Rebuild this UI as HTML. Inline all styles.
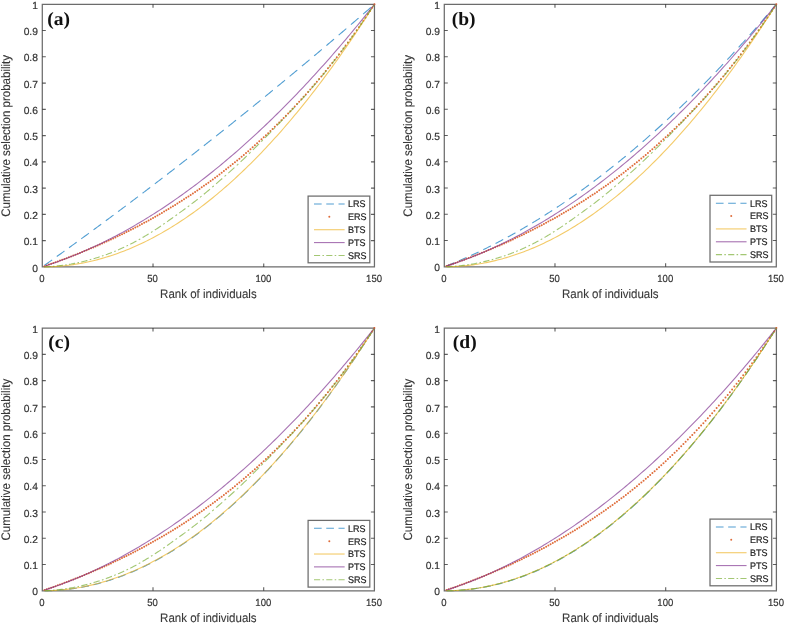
<!DOCTYPE html>
<html lang="en"><head><meta charset="utf-8"><title>Cumulative selection probability</title>
<style>html,body{margin:0;padding:0;background:#fff}svg{display:block}text{font-family:"Liberation Sans",Arial,Helvetica,sans-serif;fill:#333333;stroke:#333333;stroke-width:0.2px;text-rendering:geometricPrecision}.tk{font-size:10.25px}.lb{font-size:12.4px;fill:#383838;stroke:#383838;stroke-width:0.1px}.lg{font-size:9.55px;fill:#1c1c1c;stroke:#1c1c1c}.pn{font-family:"Liberation Serif","Times New Roman",serif;font-weight:bold;font-size:18.8px;fill:#111;stroke:none}.ax{stroke:#262626;stroke-width:1.25;fill:none;stroke-opacity:0.68}.ln{fill:none;stroke-width:1.1;stroke-opacity:0.68;stroke-linecap:butt;stroke-linejoin:round}.dt{fill:none;stroke-linecap:round;stroke-opacity:0.85}</style></head><body>
<svg width="785" height="623" viewBox="0 0 785 623">
<rect width="785" height="623" fill="#fff"/>
<g>
<path class="ax" d="M42.3 4.3H374.45V266.9H42.3Z"/>
<path class="ax" style="stroke-opacity:0.74;stroke-width:1.1" d="M42.3 240.64h3.5M374.45 240.64h-3.5M42.3 214.38h3.5M374.45 214.38h-3.5M42.3 188.12h3.5M374.45 188.12h-3.5M42.3 161.86h3.5M374.45 161.86h-3.5M42.3 135.6h3.5M374.45 135.6h-3.5M42.3 109.34h3.5M374.45 109.34h-3.5M42.3 83.08h3.5M374.45 83.08h-3.5M42.3 56.82h3.5M374.45 56.82h-3.5M42.3 30.56h3.5M374.45 30.56h-3.5M153.02 266.9v-3.5M153.02 4.3v3.5M263.73 266.9v-3.5M263.73 4.3v3.5"/>
<path class="ln" stroke="#0072BD" d="M44.51 265.32 L45.62 264.54 L46.73 263.75 L47.84 262.96 L48.94 262.17 L50.05 261.37 L51.16 260.58 L52.17 259.86M56.77 256.56 L57.8 255.82 L58.91 255.03 L60.01 254.23 L61.12 253.43 L62.23 252.64 L63.34 251.84 L64.43 251.05M69.03 247.73 L69.98 247.04 L71.09 246.23 L72.19 245.43 L73.3 244.63 L74.41 243.82 L75.51 243.02 L76.62 242.21 L76.69 242.17M81.28 238.82 L82.16 238.18 L83.27 237.37 L84.37 236.56 L85.48 235.75 L86.59 234.94 L87.69 234.13 L88.8 233.32 L88.94 233.22M93.54 229.84 L94.61 229.05 L95.72 228.23 L96.83 227.42 L97.94 226.6 L99.04 225.78 L100.15 224.97 L101.2 224.19M105.79 220.79 L106.79 220.05 L107.9 219.23 L109.01 218.4 L110.11 217.58 L111.22 216.76 L112.33 215.93 L113.44 215.11 L113.45 215.09M118.05 211.67 L118.97 210.98 L120.08 210.15 L121.19 209.32 L122.29 208.49 L123.4 207.66 L124.51 206.83 L125.61 206 L125.71 205.93M130.31 202.47 L131.15 201.83 L132.26 201 L133.36 200.16 L134.47 199.33 L135.58 198.49 L136.69 197.66 L137.79 196.82 L137.97 196.69M142.56 193.2 L143.61 192.41 L144.71 191.57 L145.82 190.73 L146.93 189.89 L148.03 189.04 L149.14 188.2 L150.22 187.37M154.82 183.86 L155.78 183.12 L156.89 182.28 L158 181.43 L159.11 180.58 L160.21 179.73 L161.32 178.88 L162.43 178.03 L162.48 177.99M167.07 174.45 L167.96 173.77 L169.07 172.91 L170.18 172.06 L171.28 171.2 L172.39 170.35 L173.5 169.49 L174.61 168.63 L174.73 168.53M179.33 164.97 L180.42 164.12 L181.53 163.26 L182.63 162.4 L183.74 161.54 L184.85 160.68 L185.95 159.81 L186.99 159.01M191.59 155.41 L192.6 154.62 L193.71 153.76 L194.81 152.89 L195.92 152.02 L197.03 151.15 L198.13 150.28 L199.24 149.41 L199.25 149.41M203.84 145.79 L204.78 145.05 L205.88 144.18 L206.99 143.3 L208.1 142.43 L209.21 141.55 L210.31 140.68 L211.42 139.8 L211.5 139.73M216.1 136.09 L216.96 135.41 L218.06 134.53 L219.17 133.65 L220.28 132.77 L221.38 131.88 L222.49 131 L223.6 130.12 L223.76 129.99M228.35 126.32 L229.41 125.47 L230.52 124.58 L231.63 123.7 L232.73 122.81 L233.84 121.92 L234.95 121.03 L236.01 120.17M240.61 116.47 L241.59 115.68 L242.7 114.79 L243.8 113.9 L244.91 113 L246.02 112.11 L247.13 111.21 L248.23 110.32 L248.27 110.29M252.87 106.56 L253.77 105.83 L254.88 104.93 L255.98 104.03 L257.09 103.13 L258.2 102.22 L259.3 101.32 L260.41 100.42 L260.53 100.33M265.12 96.57 L266.22 95.67 L267.33 94.76 L268.44 93.86 L269.55 92.95 L270.65 92.04 L271.76 91.13 L272.78 90.29M277.38 86.51 L278.4 85.67 L279.51 84.76 L280.62 83.84 L281.72 82.93 L282.83 82.01 L283.94 81.1 L285.04 80.19M289.63 76.38 L290.58 75.6 L291.69 74.68 L292.8 73.76 L293.9 72.84 L295.01 71.92 L296.12 70.99 L297.23 70.07 L297.29 70.01M301.89 66.18 L302.76 65.45 L303.87 64.53 L304.98 63.6 L306.08 62.67 L307.19 61.75 L308.3 60.82 L309.4 59.89 L309.55 59.77M314.15 55.9 L315.22 55 L316.32 54.07 L317.43 53.14 L318.54 52.21 L319.65 51.27 L320.75 50.34 L321.81 49.45M326.4 45.56 L327.4 44.72 L328.5 43.78 L329.61 42.84 L330.72 41.9 L331.82 40.96 L332.93 40.02 L334.04 39.07 L334.06 39.05M338.66 35.14 L339.57 34.36 L340.68 33.41 L341.79 32.47 L342.9 31.52 L344 30.57 L345.11 29.63 L346.22 28.68 L346.32 28.59M350.91 24.65 L351.75 23.93 L352.86 22.98 L353.97 22.02 L355.07 21.07 L356.18 20.12 L357.29 19.16 L358.4 18.21 L358.57 18.05M363.17 14.08 L364.21 13.19 L365.32 12.23 L366.42 11.27 L367.53 10.31 L368.64 9.35 L369.74 8.39 L370.83 7.45"/>
<path class="dt" stroke="#D95319" stroke-width="2" d="M44.51 266.14h0M46.73 265.38h0M48.94 264.6h0M51.16 263.82h0M53.37 263.03h0M55.59 262.24h0M57.8 261.43h0M60.01 260.62h0M62.23 259.8h0M64.44 258.97h0M66.66 258.13h0M68.87 257.28h0M71.09 256.43h0M73.3 255.57h0M75.51 254.69h0M77.73 253.81h0M79.94 252.92h0M82.16 252.03h0M84.37 251.12h0M86.59 250.2h0M88.8 249.28h0M91.02 248.34h0M93.23 247.4h0M95.44 246.44h0M97.66 245.48h0M99.87 244.5h0M102.09 243.52h0M104.3 242.53h0M106.52 241.53h0M108.73 240.51h0M110.94 239.49h0M113.16 238.46h0M115.37 237.41h0M117.59 236.36h0M119.8 235.29h0M122.02 234.22h0M124.23 233.13h0M126.44 232.03h0M128.66 230.92h0M130.87 229.81h0M133.09 228.67h0M135.3 227.53h0M137.52 226.38h0M139.73 225.21h0M141.94 224.04h0M144.16 222.85h0M146.37 221.65h0M148.59 220.43h0M150.8 219.21h0M153.02 217.97h0M155.23 216.72h0M157.45 215.46h0M159.66 214.18h0M161.87 212.9h0M164.09 211.6h0M166.3 210.28h0M168.52 208.95h0M170.73 207.61h0M172.95 206.26h0M175.16 204.89h0M177.37 203.51h0M179.59 202.12h0M181.8 200.71h0M184.02 199.28h0M186.23 197.85h0M188.45 196.4h0M190.66 194.93h0M192.87 193.45h0M195.09 191.95h0M197.3 190.44h0M199.52 188.91h0M201.73 187.37h0M203.95 185.81h0M206.16 184.24h0M208.38 182.65h0M210.59 181.05h0M212.8 179.43h0M215.02 177.79h0M217.23 176.14h0M219.45 174.47h0M221.66 172.78h0M223.88 171.07h0M226.09 169.35h0M228.3 167.62h0M230.52 165.86h0M232.73 164.09h0M234.95 162.29h0M237.16 160.49h0M239.38 158.66h0M241.59 156.81h0M243.8 154.95h0M246.02 153.06h0M248.23 151.16h0M250.45 149.24h0M252.66 147.3h0M254.88 145.34h0M257.09 143.36h0M259.3 141.36h0M261.52 139.34h0M263.73 137.3h0M265.95 135.24h0M268.16 133.16h0M270.38 131.06h0M272.59 128.93h0M274.8 126.79h0M277.02 124.62h0M279.23 122.44h0M281.45 120.23h0M283.66 117.99h0M285.88 115.74h0M288.09 113.46h0M290.31 111.16h0M292.52 108.84h0M294.73 106.49h0M296.95 104.12h0M299.16 101.73h0M301.38 99.31h0M303.59 96.87h0M305.81 94.4h0M308.02 91.91h0M310.23 89.39h0M312.45 86.85h0M314.66 84.28h0M316.88 81.69h0M319.09 79.07h0M321.31 76.42h0M323.52 73.75h0M325.73 71.05h0M327.95 68.33h0M330.16 65.57h0M332.38 62.79h0M334.59 59.98h0M336.81 57.14h0M339.02 54.28h0M341.24 51.38h0M343.45 48.46h0M345.66 45.51h0M347.88 42.52h0M350.09 39.51h0M352.31 36.47h0M354.52 33.39h0M356.74 30.29h0M358.95 27.15h0M361.16 23.98h0M363.38 20.79h0M365.59 17.55h0M367.81 14.29h0M370.02 10.99h0M372.24 7.66h0M374.45 4.3h0"/>
<polyline class="ln" stroke="#EDB120" points="44.51,266.89 46.73,266.85 48.94,266.79 51.16,266.71 53.37,266.61 55.59,266.48 57.8,266.33 60.01,266.15 62.23,265.95 64.44,265.73 66.66,265.49 68.87,265.22 71.09,264.93 73.3,264.61 75.51,264.27 77.73,263.91 79.94,263.53 82.16,263.12 84.37,262.69 86.59,262.23 88.8,261.75 91.02,261.25 93.23,260.73 95.44,260.18 97.66,259.61 99.87,259.01 102.09,258.39 104.3,257.75 106.52,257.08 108.73,256.4 110.94,255.68 113.16,254.95 115.37,254.19 117.59,253.41 119.8,252.6 122.02,251.77 124.23,250.92 126.44,250.05 128.66,249.15 130.87,248.23 133.09,247.28 135.3,246.31 137.52,245.32 139.73,244.3 141.94,243.27 144.16,242.2 146.37,241.12 148.59,240.01 150.8,238.88 153.02,237.72 155.23,236.54 157.45,235.34 159.66,234.12 161.87,232.87 164.09,231.59 166.3,230.3 168.52,228.98 170.73,227.64 172.95,226.27 175.16,224.88 177.37,223.47 179.59,222.04 181.8,220.58 184.02,219.1 186.23,217.59 188.45,216.06 190.66,214.51 192.87,212.93 195.09,211.33 197.3,209.71 199.52,208.07 201.73,206.4 203.95,204.7 206.16,202.99 208.38,201.25 210.59,199.49 212.8,197.7 215.02,195.89 217.23,194.06 219.45,192.2 221.66,190.33 223.88,188.42 226.09,186.5 228.3,184.55 230.52,182.58 232.73,180.58 234.95,178.56 237.16,176.52 239.38,174.45 241.59,172.36 243.8,170.25 246.02,168.12 248.23,165.96 250.45,163.77 252.66,161.57 254.88,159.34 257.09,157.09 259.3,154.81 261.52,152.51 263.73,150.19 265.95,147.84 268.16,145.47 270.38,143.08 272.59,140.67 274.8,138.23 277.02,135.76 279.23,133.28 281.45,130.77 283.66,128.24 285.88,125.68 288.09,123.1 290.31,120.5 292.52,117.87 294.73,115.22 296.95,112.55 299.16,109.85 301.38,107.13 303.59,104.39 305.81,101.63 308.02,98.84 310.23,96.02 312.45,93.19 314.66,90.33 316.88,87.44 319.09,84.54 321.31,81.61 323.52,78.66 325.73,75.68 327.95,72.68 330.16,69.66 332.38,66.61 334.59,63.54 336.81,60.45 339.02,57.33 341.24,54.19 343.45,51.03 345.66,47.84 347.88,44.64 350.09,41.4 352.31,38.15 354.52,34.87 356.74,31.56 358.95,28.24 361.16,24.89 363.38,21.51 365.59,18.12 367.81,14.7 370.02,11.26 372.24,7.79 374.45,4.3"/>
<polyline class="ln" stroke="#7E2F8E" points="44.51,266.19 46.73,265.47 48.94,264.74 51.16,263.99 53.37,263.22 55.59,262.45 57.8,261.66 60.01,260.85 62.23,260.03 64.44,259.2 66.66,258.35 68.87,257.49 71.09,256.61 73.3,255.72 75.51,254.82 77.73,253.9 79.94,252.97 82.16,252.03 84.37,251.07 86.59,250.09 88.8,249.11 91.02,248.1 93.23,247.09 95.44,246.06 97.66,245.02 99.87,243.96 102.09,242.89 104.3,241.8 106.52,240.7 108.73,239.59 110.94,238.46 113.16,237.32 115.37,236.17 117.59,235 119.8,233.81 122.02,232.61 124.23,231.4 126.44,230.18 128.66,228.94 130.87,227.69 133.09,226.42 135.3,225.14 137.52,223.84 139.73,222.53 141.94,221.21 144.16,219.87 146.37,218.52 148.59,217.15 150.8,215.77 153.02,214.38 155.23,212.97 157.45,211.55 159.66,210.12 161.87,208.67 164.09,207.2 166.3,205.72 168.52,204.23 170.73,202.73 172.95,201.21 175.16,199.67 177.37,198.13 179.59,196.57 181.8,194.99 184.02,193.4 186.23,191.8 188.45,190.18 190.66,188.55 192.87,186.9 195.09,185.24 197.3,183.57 199.52,181.88 201.73,180.18 203.95,178.46 206.16,176.73 208.38,174.99 210.59,173.23 212.8,171.46 215.02,169.67 217.23,167.88 219.45,166.06 221.66,164.23 223.88,162.39 226.09,160.54 228.3,158.67 230.52,156.78 232.73,154.89 234.95,152.97 237.16,151.05 239.38,149.11 241.59,147.15 243.8,145.19 246.02,143.2 248.23,141.21 250.45,139.2 252.66,137.18 254.88,135.14 257.09,133.09 259.3,131.02 261.52,128.94 263.73,126.85 265.95,124.74 268.16,122.62 270.38,120.48 272.59,118.33 274.8,116.17 277.02,113.99 279.23,111.8 281.45,109.59 283.66,107.37 285.88,105.14 288.09,102.89 290.31,100.63 292.52,98.35 294.73,96.06 296.95,93.76 299.16,91.44 301.38,89.11 303.59,86.76 305.81,84.4 308.02,82.03 310.23,79.64 312.45,77.24 314.66,74.82 316.88,72.39 319.09,69.95 321.31,67.49 323.52,65.02 325.73,62.53 327.95,60.03 330.16,57.52 332.38,54.99 334.59,52.45 336.81,49.89 339.02,47.32 341.24,44.74 343.45,42.14 345.66,39.53 347.88,36.9 350.09,34.26 352.31,31.61 354.52,28.94 356.74,26.26 358.95,23.56 361.16,20.85 363.38,18.13 365.59,15.39 367.81,12.64 370.02,9.87 372.24,7.09 374.45,4.3"/>
<path class="ln" stroke="#77AC30" d="M44.51 266.84 L45.62 266.79 L46.73 266.75 L47.84 266.69 L48.94 266.63 L50.05 266.56 L50.64 266.52M52.94 266.35 L53.93 266.27 L54.47 266.22M56.77 266.01 L57.8 265.9 L58.91 265.78 L60.01 265.65 L61.12 265.51 L62.23 265.38 L62.9 265.29M65.2 264.96 L66.1 264.83 L66.73 264.74M69.03 264.37 L69.98 264.2 L71.09 264.02 L72.19 263.81 L73.3 263.61 L74.41 263.39 L75.15 263.25M77.45 262.78 L78.28 262.6 L78.98 262.45M81.28 261.94 L82.16 261.74 L83.27 261.47 L84.37 261.2 L85.48 260.93 L86.59 260.65 L87.41 260.43M89.71 259.82 L90.74 259.54 L91.24 259.4M93.54 258.74 L94.61 258.42 L95.72 258.09 L96.83 257.75 L97.94 257.41 L99.04 257.05 L99.67 256.85M101.96 256.09 L102.92 255.77 L103.5 255.57M105.79 254.76 L106.79 254.4 L107.9 253.99 L109.01 253.58 L110.11 253.16 L111.22 252.73 L111.92 252.46M114.22 251.54 L115.1 251.18 L115.75 250.91M118.05 249.94 L118.97 249.54 L120.08 249.06 L121.19 248.57 L122.29 248.07 L123.4 247.56 L124.18 247.21M126.48 246.13 L127.55 245.61 L128.01 245.38M130.31 244.25 L131.15 243.83 L132.26 243.26 L133.36 242.69 L134.47 242.1 L135.58 241.51 L136.43 241.04M138.73 239.76 L139.73 239.2 L140.26 238.89M142.56 237.56 L143.61 236.94 L144.71 236.28 L145.82 235.62 L146.93 234.95 L148.03 234.27 L148.69 233.87M150.99 232.44 L151.91 231.86 L152.52 231.47M154.82 230.01 L155.78 229.39 L156.89 228.67 L158 227.94 L159.11 227.2 L160.21 226.46 L160.95 225.96M163.24 224.39 L164.09 223.81 L164.78 223.33M167.07 221.72 L167.96 221.09 L169.07 220.3 L170.18 219.52 L171.28 218.73 L172.39 217.94 L173.2 217.36M175.5 215.71 L176.54 214.96 L177.03 214.61M179.33 212.96 L180.42 212.17 L181.53 211.37 L182.63 210.57 L183.74 209.76 L184.85 208.95 L185.46 208.5M187.76 206.8 L188.72 206.08 L189.29 205.65M191.59 203.92 L192.6 203.15 L193.71 202.3 L194.81 201.45 L195.92 200.59 L197.03 199.73 L197.71 199.19M200.01 197.38 L200.9 196.67 L201.54 196.15M203.84 194.29 L204.78 193.52 L205.88 192.6 L206.99 191.68 L208.1 190.75 L209.21 189.81 L209.97 189.16M212.27 187.19 L213.36 186.25 L213.8 185.86M216.1 183.86 L216.96 183.11 L218.06 182.14 L219.17 181.17 L220.28 180.19 L221.38 179.22 L222.23 178.48M224.52 176.45 L225.54 175.56 L226.06 175.1M228.35 173.08 L229.41 172.14 L230.52 171.15 L231.63 170.16 L232.73 169.16 L233.84 168.15 L234.48 167.56M236.78 165.45 L237.71 164.58 L238.31 164.02M240.61 161.87 L241.59 160.94 L242.7 159.88 L243.8 158.83 L244.91 157.76 L246.02 156.69 L246.74 155.99M249.04 153.74 L249.89 152.9 L250.57 152.23M252.87 149.95 L253.77 149.05 L254.88 147.95 L255.98 146.85 L257.09 145.75 L258.2 144.65 L258.99 143.85M261.29 141.57 L262.35 140.51 L262.82 140.04M265.12 137.74 L266.22 136.63 L267.33 135.51 L268.44 134.4 L269.55 133.27 L270.65 132.15 L271.18 131.61M273.42 129.31 L274.25 128.45 L274.9 127.78M277.11 125.48 L278.13 124.41 L279.23 123.25 L280.34 122.09 L281.45 120.93 L282.56 119.77 L282.95 119.36M285.15 117.06 L286.15 116.01 L286.62 115.53M288.81 113.23 L289.75 112.24 L290.86 111.08 L291.97 109.92 L293.07 108.75 L294.18 107.58 L294.63 107.1M296.78 104.8 L297.78 103.73 L298.21 103.27M300.33 100.97 L301.38 99.83 L302.48 98.61 L303.59 97.39 L304.7 96.15 L305.81 94.92 L305.87 94.84M307.89 92.55 L308.85 91.45 L309.23 91.01M311.22 88.72 L312.17 87.62 L313.28 86.33 L314.39 85.04 L315.49 83.74 L316.48 82.59M318.42 80.29 L319.37 79.16 L319.71 78.76M321.63 76.46 L322.69 75.18 L323.8 73.84 L324.9 72.49 L326.01 71.13 L326.66 70.33M328.52 68.03 L328.78 67.71 L329.06 67.37 L329.33 67.02 L329.61 66.68 L329.75 66.5M331.58 64.2 L332.65 62.84 L333.76 61.43 L334.87 60.02 L335.98 58.59 L336.37 58.08M338.14 55.78 L339.02 54.63 L339.31 54.25M341.05 51.95 L342.07 50.59 L343.17 49.11 L344.28 47.62 L345.39 46.12 L345.61 45.82M347.3 43.52 L347.32 43.49 L347.6 43.11 L347.88 42.73 L348.15 42.35 L348.42 41.99M350.09 39.69 L350.92 38.54 L352.03 37 L353.14 35.46 L354.24 33.91 L354.49 33.56M356.12 31.27 L356.18 31.17 L356.46 30.78 L356.74 30.39 L357.01 30 L357.2 29.73M358.81 27.44 L359.78 26.04 L360.89 24.45 L361.99 22.84 L363.05 21.31M364.62 19.01 L364.76 18.8 L365.04 18.4 L365.32 17.99 L365.59 17.59 L365.67 17.48M367.22 15.18 L368.08 13.9 L369.19 12.24 L370.3 10.59 L371.32 9.05M372.84 6.75 L373.07 6.4 L373.34 5.98 L373.62 5.56 L373.84 5.22"/>
<text class="tk" text-anchor="end" transform="translate(37.9 271.5)">0</text>
<text class="tk" text-anchor="end" transform="translate(37.9 245.24)">0.1</text>
<text class="tk" text-anchor="end" transform="translate(37.9 218.98)">0.2</text>
<text class="tk" text-anchor="end" transform="translate(37.9 192.72)">0.3</text>
<text class="tk" text-anchor="end" transform="translate(37.9 166.46)">0.4</text>
<text class="tk" text-anchor="end" transform="translate(37.9 140.2)">0.5</text>
<text class="tk" text-anchor="end" transform="translate(37.9 113.94)">0.6</text>
<text class="tk" text-anchor="end" transform="translate(37.9 87.68)">0.7</text>
<text class="tk" text-anchor="end" transform="translate(37.9 61.42)">0.8</text>
<text class="tk" text-anchor="end" transform="translate(37.9 35.16)">0.9</text>
<text class="tk" text-anchor="end" transform="translate(37.9 8.9)">1</text>
<text class="tk" text-anchor="middle" transform="translate(41.9 281.8) scale(0.930 1)">0</text>
<text class="tk" text-anchor="middle" transform="translate(152.62 281.8) scale(0.930 1)">50</text>
<text class="tk" text-anchor="middle" transform="translate(263.33 281.8) scale(0.930 1)">100</text>
<text class="tk" text-anchor="middle" transform="translate(374.05 281.8) scale(0.930 1)">150</text>
<text class="lb" text-anchor="middle" transform="translate(208.38 298.1) scale(0.928 1)">Rank of individuals</text>
<text class="lb" text-anchor="middle" transform="translate(10.1 135.85) rotate(-90) scale(0.928 1)">Cumulative selection probability</text>
<text class="pn" transform="translate(47.15 25.3) scale(1.040 1)">(a)</text>
<rect class="ax" x="308.1" y="196.1" width="61.7" height="66.7" fill="#fff" style="fill:#fff"/>
<path class="ln" stroke="#0072BD" d="M314 204 L317.83 204 L321.66 204 L321.66 204M326.26 204 L329.32 204 L333.15 204 L333.92 204M338.51 204 L340.81 204 L344.64 204"/>
<text class="lg" transform="translate(348 207.4) scale(0.943 1)">LRS</text>
<path class="dt" stroke="#D95319" stroke-width="2" d="M329.32 216.86h0"/>
<text class="lg" transform="translate(348 220.26) scale(0.943 1)">ERS</text>
<path class="ln" stroke="#EDB120" d="M314 229.72H344.64"/>
<text class="lg" transform="translate(348 233.12) scale(0.943 1)">BTS</text>
<path class="ln" stroke="#7E2F8E" d="M314 242.58H344.64"/>
<text class="lg" transform="translate(348 245.98) scale(0.943 1)">PTS</text>
<path class="ln" stroke="#77AC30" d="M314 255.44 L317.83 255.44 L320.13 255.44M322.43 255.44 L323.96 255.44M326.26 255.44 L329.32 255.44 L332.38 255.44M334.68 255.44 L336.21 255.44M338.51 255.44 L340.81 255.44 L344.64 255.44"/>
<text class="lg" transform="translate(348 258.84) scale(0.943 1)">SRS</text>
</g>
<g>
<path class="ax" d="M444.3 4.3H776.3V266.8H444.3Z"/>
<path class="ax" style="stroke-opacity:0.74;stroke-width:1.1" d="M444.3 240.55h3.5M776.3 240.55h-3.5M444.3 214.3h3.5M776.3 214.3h-3.5M444.3 188.05h3.5M776.3 188.05h-3.5M444.3 161.8h3.5M776.3 161.8h-3.5M444.3 135.55h3.5M776.3 135.55h-3.5M444.3 109.3h3.5M776.3 109.3h-3.5M444.3 83.05h3.5M776.3 83.05h-3.5M444.3 56.8h3.5M776.3 56.8h-3.5M444.3 30.55h3.5M776.3 30.55h-3.5M554.97 266.8v-3.5M554.97 4.3v3.5M665.63 266.8v-3.5M665.63 4.3v3.5"/>
<path class="ln" stroke="#0072BD" d="M446.51 265.93 L447.62 265.48 L448.73 265.04 L449.83 264.59 L450.94 264.14 L452.05 263.68 L453.15 263.23 L454.17 262.8M458.77 260.87 L459.79 260.43 L460.9 259.95 L462.01 259.47 L463.11 258.99 L464.22 258.5 L465.33 258.01 L466.43 257.52M471.03 255.45 L471.97 255.02 L473.07 254.51 L474.18 254 L475.29 253.48 L476.39 252.96 L477.5 252.44 L478.61 251.92 L478.69 251.88M483.28 249.67 L484.14 249.25 L485.25 248.71 L486.35 248.17 L487.46 247.62 L488.57 247.07 L489.67 246.51 L490.78 245.96 L490.94 245.88M495.54 243.53 L496.59 242.99 L497.7 242.41 L498.8 241.84 L499.91 241.26 L501.02 240.67 L502.12 240.09 L503.2 239.51M507.79 237.03 L508.76 236.5 L509.87 235.9 L510.98 235.29 L512.08 234.67 L513.19 234.06 L514.3 233.44 L515.4 232.82 L515.45 232.79M520.05 230.18 L520.94 229.66 L522.04 229.03 L523.15 228.38 L524.26 227.74 L525.36 227.09 L526.47 226.44 L527.58 225.78 L527.71 225.71M532.31 222.96 L533.39 222.3 L534.49 221.63 L535.6 220.95 L536.71 220.28 L537.81 219.6 L538.92 218.91 L539.97 218.26M544.56 215.38 L545.56 214.74 L546.67 214.04 L547.77 213.33 L548.88 212.62 L549.99 211.91 L551.09 211.19 L552.2 210.47 L552.22 210.46M556.82 207.44 L557.73 206.83 L558.84 206.09 L559.95 205.35 L561.05 204.61 L562.16 203.87 L563.27 203.12 L564.37 202.37 L564.48 202.29M569.07 199.14 L569.91 198.56 L571.01 197.79 L572.12 197.02 L573.23 196.25 L574.33 195.47 L575.44 194.69 L576.55 193.9 L576.73 193.77M581.33 190.48 L582.36 189.74 L583.46 188.94 L584.57 188.13 L585.68 187.32 L586.78 186.51 L587.89 185.7 L588.99 184.89M593.59 181.46 L594.53 180.75 L595.64 179.92 L596.74 179.08 L597.85 178.24 L598.96 177.4 L600.06 176.55 L601.17 175.7 L601.25 175.64M605.84 172.08 L606.7 171.41 L607.81 170.54 L608.92 169.67 L610.02 168.8 L611.13 167.92 L612.24 167.05 L613.34 166.16 L613.5 166.04M618.1 162.34 L619.15 161.49 L620.26 160.59 L621.37 159.69 L622.47 158.78 L623.58 157.87 L624.69 156.96 L625.76 156.07M630.35 152.24 L631.33 151.43 L632.43 150.5 L633.54 149.56 L634.65 148.62 L635.75 147.68 L636.86 146.74 L637.97 145.79 L638.01 145.75M642.61 141.78 L643.5 141.01 L644.61 140.05 L645.71 139.08 L646.82 138.11 L647.93 137.14 L649.03 136.16 L650.14 135.18 L650.27 135.07M654.87 130.97 L655.95 129.99 L657.06 128.99 L658.16 127.99 L659.27 126.99 L660.38 125.98 L661.48 124.97 L662.53 124.02M667.12 119.78 L668.12 118.86 L669.23 117.82 L670.34 116.79 L671.44 115.76 L672.55 114.72 L673.66 113.68 L674.76 112.63 L674.78 112.61M679.38 108.24 L680.3 107.36 L681.4 106.3 L682.51 105.24 L683.62 104.17 L684.72 103.1 L685.83 102.02 L686.94 100.95 L687.04 100.85M691.63 96.34 L692.47 95.52 L693.58 94.42 L694.68 93.33 L695.79 92.23 L696.9 91.12 L698 90.02 L699.11 88.91 L699.29 88.73M703.84 84.13 L704.92 83.04 L706.03 81.91 L707.13 80.78 L708.24 79.65 L709.35 78.51 L710.45 77.37 L711.32 76.47M715.75 71.88 L716.82 70.76 L717.92 69.6 L719.03 68.44 L720.14 67.28 L721.24 66.11 L722.35 64.94 L723.03 64.22M727.34 59.62 L728.44 58.45 L729.54 57.26 L730.65 56.06 L731.76 54.87 L732.86 53.67 L733.97 52.47 L734.44 51.96M738.64 47.36 L739.5 46.41 L740.61 45.2 L741.72 43.97 L742.82 42.75 L743.93 41.52 L745.04 40.29 L745.56 39.7M749.67 35.11 L750.57 34.09 L751.68 32.84 L752.78 31.59 L753.89 30.33 L755 29.08 L756.1 27.82 L756.43 27.45M760.44 22.85 L761.36 21.79 L762.47 20.51 L763.57 19.23 L764.68 17.95 L765.79 16.66 L766.89 15.37 L767.05 15.19M770.97 10.6 L771.87 9.54 L772.98 8.23 L774.09 6.93 L775.19 5.61 L776.3 4.3"/>
<path class="dt" stroke="#D95319" stroke-width="2" d="M446.51 266.04h0M448.73 265.28h0M450.94 264.5h0M453.15 263.72h0M455.37 262.93h0M457.58 262.14h0M459.79 261.33h0M462.01 260.52h0M464.22 259.7h0M466.43 258.87h0M468.65 258.03h0M470.86 257.19h0M473.07 256.33h0M475.29 255.47h0M477.5 254.6h0M479.71 253.72h0M481.93 252.83h0M484.14 251.93h0M486.35 251.02h0M488.57 250.11h0M490.78 249.18h0M492.99 248.25h0M495.21 247.3h0M497.42 246.35h0M499.63 245.39h0M501.85 244.41h0M504.06 243.43h0M506.27 242.44h0M508.49 241.44h0M510.7 240.42h0M512.91 239.4h0M515.13 238.37h0M517.34 237.32h0M519.55 236.27h0M521.77 235.2h0M523.98 234.13h0M526.19 233.04h0M528.41 231.95h0M530.62 230.84h0M532.83 229.72h0M535.05 228.59h0M537.26 227.45h0M539.47 226.29h0M541.69 225.13h0M543.9 223.95h0M546.11 222.76h0M548.33 221.56h0M550.54 220.35h0M552.75 219.13h0M554.97 217.89h0M557.18 216.64h0M559.39 215.38h0M561.61 214.1h0M563.82 212.82h0M566.03 211.52h0M568.25 210.2h0M570.46 208.88h0M572.67 207.54h0M574.89 206.18h0M577.1 204.82h0M579.31 203.44h0M581.53 202.04h0M583.74 200.63h0M585.95 199.21h0M588.17 197.77h0M590.38 196.32h0M592.59 194.86h0M594.81 193.38h0M597.02 191.88h0M599.23 190.37h0M601.45 188.84h0M603.66 187.3h0M605.87 185.74h0M608.09 184.17h0M610.3 182.58h0M612.51 180.98h0M614.73 179.36h0M616.94 177.72h0M619.15 176.07h0M621.37 174.4h0M623.58 172.71h0M625.79 171.01h0M628.01 169.29h0M630.22 167.55h0M632.43 165.8h0M634.65 164.03h0M636.86 162.23h0M639.07 160.43h0M641.29 158.6h0M643.5 156.75h0M645.71 154.89h0M647.93 153.01h0M650.14 151.11h0M652.35 149.19h0M654.57 147.25h0M656.78 145.29h0M658.99 143.31h0M661.21 141.31h0M663.42 139.29h0M665.63 137.25h0M667.85 135.19h0M670.06 133.11h0M672.27 131.01h0M674.49 128.89h0M676.7 126.74h0M678.91 124.58h0M681.13 122.39h0M683.34 120.18h0M685.55 117.95h0M687.77 115.7h0M689.98 113.42h0M692.19 111.12h0M694.41 108.8h0M696.62 106.45h0M698.83 104.08h0M701.05 101.69h0M703.26 99.27h0M705.47 96.83h0M707.69 94.37h0M709.9 91.88h0M712.11 89.36h0M714.33 86.82h0M716.54 84.25h0M718.75 81.66h0M720.97 79.04h0M723.18 76.4h0M725.39 73.73h0M727.61 71.03h0M729.82 68.3h0M732.03 65.55h0M734.25 62.77h0M736.46 59.96h0M738.67 57.12h0M740.89 54.26h0M743.1 51.37h0M745.31 48.44h0M747.53 45.49h0M749.74 42.51h0M751.95 39.5h0M754.17 36.45h0M756.38 33.38h0M758.59 30.28h0M760.81 27.14h0M763.02 23.98h0M765.23 20.78h0M767.45 17.55h0M769.66 14.29h0M771.87 10.99h0M774.09 7.66h0M776.3 4.3h0"/>
<polyline class="ln" stroke="#EDB120" points="446.51,266.79 448.73,266.75 450.94,266.69 453.15,266.61 455.37,266.51 457.58,266.38 459.79,266.23 462.01,266.05 464.22,265.86 466.43,265.63 468.65,265.39 470.86,265.12 473.07,264.83 475.29,264.51 477.5,264.18 479.71,263.81 481.93,263.43 484.14,263.02 486.35,262.59 488.57,262.13 490.78,261.66 492.99,261.15 495.21,260.63 497.42,260.08 499.63,259.51 501.85,258.91 504.06,258.3 506.27,257.65 508.49,256.99 510.7,256.3 512.91,255.59 515.13,254.85 517.34,254.09 519.55,253.31 521.77,252.51 523.98,251.68 526.19,250.83 528.41,249.95 530.62,249.06 532.83,248.13 535.05,247.19 537.26,246.22 539.47,245.23 541.69,244.21 543.9,243.18 546.11,242.11 548.33,241.03 550.54,239.92 552.75,238.79 554.97,237.63 557.18,236.46 559.39,235.25 561.61,234.03 563.82,232.78 566.03,231.51 568.25,230.21 570.46,228.9 572.67,227.55 574.89,226.19 577.1,224.8 579.31,223.39 581.53,221.95 583.74,220.5 585.95,219.01 588.17,217.51 590.38,215.98 592.59,214.43 594.81,212.85 597.02,211.25 599.23,209.63 601.45,207.99 603.66,206.32 605.87,204.63 608.09,202.91 610.3,201.18 612.51,199.41 614.73,197.63 616.94,195.82 619.15,193.99 621.37,192.13 623.58,190.25 625.79,188.35 628.01,186.43 630.22,184.48 632.43,182.51 634.65,180.51 636.86,178.5 639.07,176.45 641.29,174.39 643.5,172.3 645.71,170.19 647.93,168.05 650.14,165.9 652.35,163.71 654.57,161.51 656.78,159.28 658.99,157.03 661.21,154.75 663.42,152.45 665.63,150.13 667.85,147.79 670.06,145.42 672.27,143.03 674.49,140.61 676.7,138.18 678.91,135.71 681.13,133.23 683.34,130.72 685.55,128.19 687.77,125.63 689.98,123.06 692.19,120.45 694.41,117.83 696.62,115.18 698.83,112.51 701.05,109.81 703.26,107.09 705.47,104.35 707.69,101.59 709.9,98.8 712.11,95.99 714.33,93.15 716.54,90.3 718.75,87.41 720.97,84.51 723.18,81.58 725.39,78.63 727.61,75.65 729.82,72.66 732.03,69.63 734.25,66.59 736.46,63.52 738.67,60.43 740.89,57.31 743.1,54.18 745.31,51.01 747.53,47.83 749.74,44.62 751.95,41.39 754.17,38.13 756.38,34.86 758.59,31.55 760.81,28.23 763.02,24.88 765.23,21.51 767.45,18.11 769.66,14.7 771.87,11.25 774.09,7.79 776.3,4.3"/>
<polyline class="ln" stroke="#7E2F8E" points="446.51,266.09 448.73,265.37 450.94,264.64 453.15,263.89 455.37,263.12 457.58,262.35 459.79,261.56 462.01,260.75 464.22,259.93 466.43,259.1 468.65,258.25 470.86,257.39 473.07,256.52 475.29,255.63 477.5,254.73 479.71,253.81 481.93,252.88 484.14,251.93 486.35,250.97 488.57,250 490.78,249.01 492.99,248.01 495.21,247 497.42,245.97 499.63,244.93 501.85,243.87 504.06,242.8 506.27,241.71 508.49,240.61 510.7,239.5 512.91,238.37 515.13,237.23 517.34,236.08 519.55,234.91 521.77,233.73 523.98,232.53 526.19,231.32 528.41,230.09 530.62,228.85 532.83,227.6 535.05,226.33 537.26,225.05 539.47,223.76 541.69,222.45 543.9,221.12 546.11,219.79 548.33,218.44 550.54,217.07 552.75,215.69 554.97,214.3 557.18,212.89 559.39,211.47 561.61,210.04 563.82,208.59 566.03,207.12 568.25,205.65 570.46,204.16 572.67,202.65 574.89,201.13 577.1,199.6 579.31,198.05 581.53,196.49 583.74,194.92 585.95,193.33 588.17,191.73 590.38,190.11 592.59,188.48 594.81,186.83 597.02,185.17 599.23,183.5 601.45,181.81 603.66,180.11 605.87,178.4 608.09,176.67 610.3,174.93 612.51,173.17 614.73,171.4 616.94,169.61 619.15,167.81 621.37,166 623.58,164.17 625.79,162.33 628.01,160.48 630.22,158.61 632.43,156.73 634.65,154.83 636.86,152.92 639.07,150.99 641.29,149.05 643.5,147.1 645.71,145.13 647.93,143.15 650.14,141.16 652.35,139.15 654.57,137.12 656.78,135.09 658.99,133.04 661.21,130.97 663.42,128.89 665.63,126.8 667.85,124.69 670.06,122.57 672.27,120.44 674.49,118.29 676.7,116.13 678.91,113.95 681.13,111.76 683.34,109.55 685.55,107.33 687.77,105.1 689.98,102.85 692.19,100.59 694.41,98.32 696.62,96.03 698.83,93.73 701.05,91.41 703.26,89.08 705.47,86.73 707.69,84.37 709.9,82 712.11,79.61 714.33,77.21 716.54,74.8 718.75,72.37 720.97,69.93 723.18,67.47 725.39,65 727.61,62.51 729.82,60.01 732.03,57.5 734.25,54.97 736.46,52.43 738.67,49.88 740.89,47.31 743.1,44.72 745.31,42.13 747.53,39.52 749.74,36.89 751.95,34.25 754.17,31.6 756.38,28.93 758.59,26.25 760.81,23.56 763.02,20.85 765.23,18.12 767.45,15.39 769.66,12.64 771.87,9.87 774.09,7.09 776.3,4.3"/>
<path class="ln" stroke="#77AC30" d="M446.51 266.74 L447.62 266.69 L448.73 266.65 L449.83 266.59 L450.94 266.53 L452.05 266.46 L452.64 266.42M454.94 266.25 L455.92 266.17 L456.47 266.12M458.77 265.91 L459.79 265.8 L460.9 265.68 L462.01 265.55 L463.11 265.42 L464.22 265.28 L464.9 265.19M467.2 264.86 L468.09 264.73 L468.73 264.64M471.03 264.27 L471.97 264.11 L473.07 263.92 L474.18 263.71 L475.29 263.51 L476.39 263.3 L477.15 263.15M479.45 262.68 L480.54 262.44 L480.98 262.35M483.28 261.83 L484.14 261.64 L485.25 261.37 L486.35 261.11 L487.46 260.83 L488.57 260.55 L489.41 260.33M491.71 259.71 L492.72 259.44 L493.24 259.29M495.54 258.63 L496.59 258.32 L497.7 257.99 L498.8 257.65 L499.91 257.31 L501.02 256.96 L501.67 256.75M503.96 255.99 L504.89 255.67 L505.5 255.46M507.79 254.66 L508.76 254.31 L509.87 253.9 L510.98 253.49 L512.08 253.06 L513.19 252.64 L513.92 252.35M516.22 251.43 L517.06 251.09 L517.75 250.8M520.05 249.83 L520.94 249.45 L522.04 248.96 L523.15 248.47 L524.26 247.98 L525.36 247.47 L526.18 247.1M528.48 246.02 L529.51 245.51 L530.01 245.27M532.31 244.14 L533.39 243.6 L534.49 243.03 L535.6 242.45 L536.71 241.86 L537.81 241.26 L538.43 240.93M540.73 239.65 L541.69 239.11 L542.26 238.78M544.56 237.44 L545.56 236.85 L546.67 236.19 L547.77 235.53 L548.88 234.86 L549.99 234.18 L550.69 233.75M552.99 232.32 L553.86 231.77 L554.52 231.36M556.82 229.89 L557.73 229.3 L558.84 228.58 L559.95 227.85 L561.05 227.12 L562.16 226.37 L562.95 225.84M565.24 224.27 L566.31 223.53 L566.78 223.21M569.07 221.59 L569.91 221.01 L571.01 220.22 L572.12 219.44 L573.23 218.65 L574.33 217.85 L575.2 217.23M577.5 215.58 L578.48 214.88 L579.03 214.48M581.33 212.83 L582.36 212.09 L583.46 211.29 L584.57 210.49 L585.68 209.68 L586.78 208.87 L587.46 208.37M589.76 206.67 L590.66 206 L591.29 205.53M593.59 203.79 L594.53 203.07 L595.64 202.23 L596.74 201.38 L597.85 200.52 L598.96 199.66 L599.71 199.06M602.01 197.25 L603.11 196.37 L603.54 196.02M605.84 194.16 L606.7 193.45 L607.81 192.53 L608.92 191.61 L610.02 190.68 L611.13 189.74 L611.97 189.03M614.27 187.05 L615.28 186.18 L615.8 185.73M618.1 183.72 L619.15 182.8 L620.26 181.83 L621.37 180.86 L622.47 179.88 L623.58 178.91 L624.23 178.34M626.52 176.32 L627.45 175.5 L628.06 174.97M630.35 172.94 L631.33 172.08 L632.43 171.09 L633.54 170.09 L634.65 169.09 L635.75 168.09 L636.48 167.42M638.78 165.31 L639.63 164.52 L640.31 163.88M642.61 161.72 L643.5 160.88 L644.61 159.83 L645.71 158.77 L646.82 157.7 L647.93 156.63 L648.74 155.84M651.04 153.59 L652.08 152.57 L652.57 152.08M654.87 149.8 L655.95 148.72 L657.06 147.62 L658.16 146.52 L659.27 145.42 L660.38 144.32 L660.99 143.7M663.29 141.42 L664.25 140.46 L664.82 139.89M667.12 137.59 L668.12 136.58 L669.23 135.46 L670.34 134.35 L671.44 133.22 L672.55 132.1 L673.17 131.46M675.41 129.16 L676.42 128.12 L676.89 127.63M679.1 125.33 L680.02 124.37 L681.13 123.2 L682.23 122.04 L683.34 120.88 L684.45 119.73 L684.94 119.21M687.14 116.91 L688.04 115.97 L688.61 115.38M690.81 113.08 L691.64 112.2 L692.75 111.04 L693.85 109.88 L694.96 108.71 L696.07 107.54 L696.62 106.95M698.77 104.65 L699.66 103.69 L700.2 103.12M702.32 100.82 L703.26 99.8 L704.37 98.58 L705.47 97.36 L706.58 96.12 L707.69 94.88 L707.85 94.69M709.88 92.4 L710.73 91.42 L711.21 90.86M713.2 88.57 L714.05 87.59 L715.16 86.3 L716.26 85.01 L717.37 83.71 L718.46 82.44M720.4 80.14 L721.24 79.14 L721.68 78.61M723.6 76.31 L724.56 75.15 L725.67 73.81 L726.78 72.46 L727.88 71.11 L728.63 70.18M730.49 67.88 L730.65 67.69 L730.93 67.34 L731.2 67 L731.48 66.65 L731.72 66.35M733.55 64.05 L734.52 62.82 L735.63 61.41 L736.74 60 L737.84 58.57 L738.34 57.93M740.11 55.63 L740.33 55.33 L740.61 54.97 L740.89 54.61 L741.16 54.24 L741.27 54.1M743.01 51.8 L743.93 50.57 L745.04 49.09 L746.14 47.6 L747.25 46.11 L747.57 45.67M749.26 43.37 L749.46 43.1 L749.74 42.72 L750.02 42.34 L750.29 41.96 L750.38 41.84M752.05 39.54 L753.06 38.14 L754.17 36.61 L755.27 35.06 L756.38 33.51 L756.45 33.41M758.07 31.12 L758.32 30.77 L758.59 30.38 L758.87 29.99 L759.15 29.59 L759.15 29.58M760.76 27.29 L761.64 26.03 L762.74 24.44 L763.85 22.83 L764.96 21.23 L765 21.16M766.57 18.86 L766.62 18.8 L766.89 18.39 L767.17 17.99 L767.45 17.58 L767.62 17.33M769.17 15.03 L770.21 13.48 L771.32 11.83 L772.43 10.17 L773.27 8.9M774.79 6.6 L774.92 6.4 L775.19 5.98 L775.47 5.56 L775.75 5.14 L775.79 5.07"/>
<text class="tk" text-anchor="end" transform="translate(439.9 271.4)">0</text>
<text class="tk" text-anchor="end" transform="translate(439.9 245.15)">0.1</text>
<text class="tk" text-anchor="end" transform="translate(439.9 218.9)">0.2</text>
<text class="tk" text-anchor="end" transform="translate(439.9 192.65)">0.3</text>
<text class="tk" text-anchor="end" transform="translate(439.9 166.4)">0.4</text>
<text class="tk" text-anchor="end" transform="translate(439.9 140.15)">0.5</text>
<text class="tk" text-anchor="end" transform="translate(439.9 113.9)">0.6</text>
<text class="tk" text-anchor="end" transform="translate(439.9 87.65)">0.7</text>
<text class="tk" text-anchor="end" transform="translate(439.9 61.4)">0.8</text>
<text class="tk" text-anchor="end" transform="translate(439.9 35.15)">0.9</text>
<text class="tk" text-anchor="end" transform="translate(439.9 8.9)">1</text>
<text class="tk" text-anchor="middle" transform="translate(443.9 281.7) scale(0.930 1)">0</text>
<text class="tk" text-anchor="middle" transform="translate(554.57 281.7) scale(0.930 1)">50</text>
<text class="tk" text-anchor="middle" transform="translate(665.23 281.7) scale(0.930 1)">100</text>
<text class="tk" text-anchor="middle" transform="translate(775.9 281.7) scale(0.930 1)">150</text>
<text class="lb" text-anchor="middle" transform="translate(610.3 298) scale(0.928 1)">Rank of individuals</text>
<text class="lb" text-anchor="middle" transform="translate(412.1 135.8) rotate(-90) scale(0.928 1)">Cumulative selection probability</text>
<text class="pn" transform="translate(451.65 25.2) scale(1.040 1)">(b)</text>
<rect class="ax" x="710" y="195.3" width="61.7" height="66.7" fill="#fff" style="fill:#fff"/>
<path class="ln" stroke="#0072BD" d="M715.9 203.2 L719.73 203.2 L723.56 203.2 L723.56 203.2M728.16 203.2 L731.22 203.2 L735.05 203.2 L735.82 203.2M740.41 203.2 L742.71 203.2 L746.54 203.2"/>
<text class="lg" transform="translate(749.9 206.6) scale(0.943 1)">LRS</text>
<path class="dt" stroke="#D95319" stroke-width="2" d="M731.22 216.06h0"/>
<text class="lg" transform="translate(749.9 219.46) scale(0.943 1)">ERS</text>
<path class="ln" stroke="#EDB120" d="M715.9 228.92H746.54"/>
<text class="lg" transform="translate(749.9 232.32) scale(0.943 1)">BTS</text>
<path class="ln" stroke="#7E2F8E" d="M715.9 241.78H746.54"/>
<text class="lg" transform="translate(749.9 245.18) scale(0.943 1)">PTS</text>
<path class="ln" stroke="#77AC30" d="M715.9 254.64 L719.73 254.64 L722.03 254.64M724.33 254.64 L725.86 254.64M728.16 254.64 L731.22 254.64 L734.28 254.64M736.58 254.64 L738.11 254.64M740.41 254.64 L742.71 254.64 L746.54 254.64"/>
<text class="lg" transform="translate(749.9 258.04) scale(0.943 1)">SRS</text>
</g>
<g>
<path class="ax" d="M42.3 328.1H374.4V590.8H42.3Z"/>
<path class="ax" style="stroke-opacity:0.74;stroke-width:1.1" d="M42.3 564.53h3.5M374.4 564.53h-3.5M42.3 538.26h3.5M374.4 538.26h-3.5M42.3 511.99h3.5M374.4 511.99h-3.5M42.3 485.72h3.5M374.4 485.72h-3.5M42.3 459.45h3.5M374.4 459.45h-3.5M42.3 433.18h3.5M374.4 433.18h-3.5M42.3 406.91h3.5M374.4 406.91h-3.5M42.3 380.64h3.5M374.4 380.64h-3.5M42.3 354.37h3.5M374.4 354.37h-3.5M153 590.8v-3.5M153 328.1v3.5M263.7 590.8v-3.5M263.7 328.1v3.5"/>
<path class="ln" stroke="#0072BD" d="M44.51 590.8 L45.62 590.79 L46.73 590.78 L47.83 590.75 L48.94 590.73 L50.05 590.69 L51.16 590.66 L52.17 590.62M56.77 590.37 L57.8 590.31 L58.91 590.22 L60.01 590.14 L61.12 590.05 L62.23 589.95 L63.33 589.85 L64.43 589.74M69.03 589.23 L69.97 589.11 L71.08 588.97 L72.19 588.81 L73.3 588.66 L74.4 588.5 L75.51 588.33 L76.62 588.16 L76.69 588.14M81.28 587.36 L82.15 587.2 L83.26 586.99 L84.37 586.78 L85.47 586.56 L86.58 586.33 L87.69 586.1 L88.79 585.86 L88.94 585.83M93.54 584.78 L94.61 584.51 L95.71 584.24 L96.82 583.96 L97.93 583.67 L99.03 583.38 L100.14 583.08 L101.2 582.79M105.79 581.47 L106.78 581.17 L107.89 580.83 L109 580.49 L110.1 580.13 L111.21 579.78 L112.32 579.41 L113.42 579.05 L113.45 579.04M118.05 577.44 L118.96 577.11 L120.07 576.71 L121.17 576.3 L122.28 575.88 L123.39 575.46 L124.49 575.04 L125.6 574.6 L125.71 574.56M130.31 572.69 L131.14 572.35 L132.24 571.88 L133.35 571.4 L134.46 570.92 L135.56 570.44 L136.67 569.94 L137.78 569.45 L137.97 569.36M142.56 567.23 L143.59 566.73 L144.7 566.2 L145.8 565.66 L146.91 565.11 L148.02 564.56 L149.13 564 L150.22 563.44M154.82 561.04 L155.77 560.53 L156.87 559.93 L157.98 559.32 L159.09 558.71 L160.2 558.09 L161.3 557.47 L162.41 556.84 L162.48 556.8M167.07 554.13 L167.94 553.61 L169.05 552.95 L170.16 552.28 L171.27 551.6 L172.37 550.92 L173.48 550.23 L174.59 549.54 L174.73 549.45M179.33 546.5 L180.4 545.8 L181.51 545.07 L182.61 544.33 L183.72 543.59 L184.83 542.84 L185.93 542.09 L186.99 541.37M191.59 538.15 L192.58 537.45 L193.68 536.65 L194.79 535.85 L195.9 535.04 L197 534.23 L198.11 533.41 L199.22 532.59 L199.25 532.57M203.84 529.08 L204.75 528.38 L205.86 527.52 L206.97 526.65 L208.07 525.78 L209.18 524.9 L210.29 524.02 L211.39 523.13 L211.5 523.05M216.1 519.29 L216.93 518.6 L218.04 517.68 L219.14 516.75 L220.25 515.81 L221.36 514.87 L222.46 513.92 L223.57 512.97 L223.76 512.81M228.35 508.78 L229.38 507.86 L230.49 506.88 L231.6 505.88 L232.7 504.88 L233.81 503.87 L234.92 502.86 L236.01 501.84M240.61 497.55 L241.56 496.65 L242.67 495.59 L243.77 494.54 L244.88 493.47 L245.99 492.4 L247.09 491.31 L248.2 490.23 L248.27 490.17M252.86 485.6 L253.74 484.72 L254.84 483.6 L255.95 482.48 L257.06 481.35 L258.16 480.21 L259.27 479.07 L260.35 477.94M264.73 473.35 L265.64 472.38 L266.74 471.2 L267.85 470.01 L268.96 468.81 L270.07 467.61 L271.17 466.41 L271.83 465.69M275.99 461.09 L276.98 459.98 L278.09 458.73 L279.2 457.49 L280.31 456.23 L281.41 454.97 L282.52 453.7 L282.76 453.43M286.73 448.83 L287.78 447.61 L288.88 446.31 L289.99 445 L291.1 443.69 L292.21 442.37 L293.21 441.17M297.02 436.58 L298.02 435.35 L299.12 434 L300.23 432.64 L301.34 431.28 L302.45 429.9 L303.24 428.92M306.9 424.32 L307.98 422.95 L309.09 421.54 L310.19 420.13 L311.3 418.71 L312.41 417.29 L312.89 416.66M316.43 412.07 L317.39 410.8 L318.5 409.34 L319.6 407.88 L320.71 406.41 L321.82 404.94 L322.21 404.41M325.63 399.81 L326.52 398.6 L327.63 397.1 L328.74 395.58 L329.84 394.07 L330.95 392.54 L331.23 392.15M334.55 387.55 L335.38 386.39 L336.49 384.84 L337.59 383.28 L338.7 381.71 L339.81 380.14 L339.98 379.89M343.2 375.3 L344.23 373.8 L345.34 372.2 L346.45 370.59 L347.56 368.98 L348.48 367.64M351.6 363.04 L352.54 361.66 L353.64 360.01 L354.75 358.36 L355.86 356.71 L356.74 355.38M359.78 350.79 L360.84 349.18 L361.95 347.49 L363.05 345.8 L364.16 344.1 L364.79 343.13M367.76 338.53 L368.87 336.81 L369.97 335.08 L371.08 333.34 L372.19 331.6 L372.65 330.87"/>
<path class="dt" stroke="#D95319" stroke-width="2" d="M44.51 590.04h0M46.73 589.28h0M48.94 588.5h0M51.16 587.72h0M53.37 586.93h0M55.58 586.13h0M57.8 585.33h0M60.01 584.52h0M62.23 583.69h0M64.44 582.86h0M66.65 582.03h0M68.87 581.18h0M71.08 580.33h0M73.3 579.46h0M75.51 578.59h0M77.72 577.71h0M79.94 576.82h0M82.15 575.92h0M84.37 575.01h0M86.58 574.09h0M88.79 573.17h0M91.01 572.23h0M93.22 571.29h0M95.44 570.33h0M97.65 569.37h0M99.86 568.4h0M102.08 567.41h0M104.29 566.42h0M106.51 565.42h0M108.72 564.4h0M110.93 563.38h0M113.15 562.34h0M115.36 561.3h0M117.58 560.25h0M119.79 559.18h0M122 558.1h0M124.22 557.02h0M126.43 555.92h0M128.65 554.81h0M130.86 553.69h0M133.07 552.56h0M135.29 551.42h0M137.5 550.26h0M139.72 549.1h0M141.93 547.92h0M144.14 546.73h0M146.36 545.53h0M148.57 544.32h0M150.79 543.09h0M153 541.85h0M155.21 540.6h0M157.43 539.34h0M159.64 538.06h0M161.86 536.78h0M164.07 535.47h0M166.28 534.16h0M168.5 532.83h0M170.71 531.49h0M172.93 530.14h0M175.14 528.77h0M177.35 527.39h0M179.57 525.99h0M181.78 524.58h0M184 523.16h0M186.21 521.72h0M188.42 520.27h0M190.64 518.8h0M192.85 517.32h0M195.07 515.82h0M197.28 514.31h0M199.49 512.78h0M201.71 511.24h0M203.92 509.68h0M206.14 508.11h0M208.35 506.52h0M210.56 504.91h0M212.78 503.29h0M214.99 501.66h0M217.21 500h0M219.42 498.33h0M221.63 496.64h0M223.85 494.94h0M226.06 493.22h0M228.28 491.48h0M230.49 489.72h0M232.7 487.95h0M234.92 486.15h0M237.13 484.34h0M239.35 482.52h0M241.56 480.67h0M243.77 478.81h0M245.99 476.92h0M248.2 475.02h0M250.42 473.1h0M252.63 471.16h0M254.84 469.19h0M257.06 467.21h0M259.27 465.21h0M261.49 463.19h0M263.7 461.15h0M265.91 459.09h0M268.13 457.01h0M270.34 454.91h0M272.56 452.78h0M274.77 450.64h0M276.98 448.47h0M279.2 446.28h0M281.41 444.07h0M283.63 441.84h0M285.84 439.58h0M288.05 437.3h0M290.27 435h0M292.48 432.68h0M294.7 430.33h0M296.91 427.96h0M299.12 425.57h0M301.34 423.15h0M303.55 420.7h0M305.77 418.24h0M307.98 415.74h0M310.19 413.23h0M312.41 410.68h0M314.62 408.11h0M316.84 405.52h0M319.05 402.9h0M321.26 400.25h0M323.48 397.58h0M325.69 394.88h0M327.91 392.15h0M330.12 389.4h0M332.33 386.61h0M334.55 383.8h0M336.76 380.97h0M338.98 378.1h0M341.19 375.2h0M343.4 372.28h0M345.62 369.32h0M347.83 366.34h0M350.05 363.32h0M352.26 360.28h0M354.47 357.2h0M356.69 354.1h0M358.9 350.96h0M361.12 347.79h0M363.33 344.59h0M365.54 341.36h0M367.76 338.09h0M369.97 334.8h0M372.19 331.46h0M374.4 328.1h0"/>
<polyline class="ln" stroke="#EDB120" points="44.51,590.79 46.73,590.75 48.94,590.69 51.16,590.61 53.37,590.51 55.58,590.38 57.8,590.23 60.01,590.05 62.23,589.85 64.44,589.63 66.65,589.39 68.87,589.12 71.08,588.83 73.3,588.51 75.51,588.17 77.72,587.81 79.94,587.43 82.15,587.02 84.37,586.59 86.58,586.13 88.79,585.65 91.01,585.15 93.22,584.62 95.44,584.07 97.65,583.5 99.86,582.91 102.08,582.29 104.29,581.65 106.51,580.98 108.72,580.29 110.93,579.58 113.15,578.84 115.36,578.09 117.58,577.3 119.79,576.5 122,575.67 124.22,574.82 126.43,573.94 128.65,573.04 130.86,572.12 133.07,571.17 135.29,570.2 137.5,569.21 139.72,568.2 141.93,567.16 144.14,566.09 146.36,565.01 148.57,563.9 150.79,562.77 153,561.61 155.21,560.43 157.43,559.23 159.64,558 161.86,556.75 164.07,555.48 166.28,554.19 168.5,552.87 170.71,551.52 172.93,550.16 175.14,548.77 177.35,547.36 179.57,545.92 181.78,544.46 184,542.98 186.21,541.47 188.42,539.94 190.64,538.39 192.85,536.81 195.07,535.21 197.28,533.59 199.49,531.94 201.71,530.27 203.92,528.58 206.14,526.86 208.35,525.12 210.56,523.36 212.78,521.58 214.99,519.77 217.21,517.93 219.42,516.08 221.63,514.2 223.85,512.29 226.06,510.37 228.28,508.42 230.49,506.44 232.7,504.45 234.92,502.43 237.13,500.38 239.35,498.32 241.56,496.23 243.77,494.11 245.99,491.98 248.2,489.82 250.42,487.63 252.63,485.43 254.84,483.2 257.06,480.94 259.27,478.67 261.49,476.37 263.7,474.04 265.91,471.7 268.13,469.33 270.34,466.93 272.56,464.52 274.77,462.08 276.98,459.61 279.2,457.13 281.41,454.62 283.63,452.08 285.84,449.53 288.05,446.95 290.27,444.34 292.48,441.71 294.7,439.06 296.91,436.39 299.12,433.69 301.34,430.97 303.55,428.23 305.77,425.46 307.98,422.67 310.19,419.86 312.41,417.02 314.62,414.16 316.84,411.28 319.05,408.37 321.26,405.44 323.48,402.48 325.69,399.51 327.91,396.51 330.12,393.48 332.33,390.44 334.55,387.37 336.76,384.27 338.98,381.15 341.19,378.01 343.4,374.85 345.62,371.66 347.83,368.45 350.05,365.22 352.26,361.96 354.47,358.68 356.69,355.37 358.9,352.05 361.12,348.7 363.33,345.32 365.54,341.92 367.76,338.5 369.97,335.06 372.19,331.59 374.4,328.1"/>
<polyline class="ln" stroke="#7E2F8E" points="44.51,590.09 46.73,589.37 48.94,588.64 51.16,587.89 53.37,587.12 55.58,586.34 57.8,585.55 60.01,584.75 62.23,583.93 64.44,583.09 66.65,582.25 68.87,581.38 71.08,580.51 73.3,579.62 75.51,578.72 77.72,577.8 79.94,576.87 82.15,575.92 84.37,574.96 86.58,573.99 88.79,573 91.01,572 93.22,570.98 95.44,569.95 97.65,568.91 99.86,567.85 102.08,566.78 104.29,565.69 106.51,564.59 108.72,563.48 110.93,562.35 113.15,561.21 115.36,560.05 117.58,558.88 119.79,557.7 122,556.5 124.22,555.29 126.43,554.06 128.65,552.82 130.86,551.57 133.07,550.3 135.29,549.02 137.5,547.72 139.72,546.41 141.93,545.09 144.14,543.75 146.36,542.4 148.57,541.03 150.79,539.65 153,538.26 155.21,536.85 157.43,535.43 159.64,533.99 161.86,532.54 164.07,531.08 166.28,529.6 168.5,528.11 170.71,526.6 172.93,525.08 175.14,523.55 177.35,522 179.57,520.44 181.78,518.86 184,517.27 186.21,515.67 188.42,514.05 190.64,512.42 192.85,510.77 195.07,509.11 197.28,507.44 199.49,505.75 201.71,504.05 203.92,502.33 206.14,500.6 208.35,498.85 210.56,497.1 212.78,495.32 214.99,493.54 217.21,491.74 219.42,489.92 221.63,488.09 223.85,486.25 226.06,484.4 228.28,482.53 230.49,480.64 232.7,478.74 234.92,476.83 237.13,474.9 239.35,472.96 241.56,471.01 243.77,469.04 245.99,467.06 248.2,465.06 250.42,463.05 252.63,461.03 254.84,458.99 257.06,456.94 259.27,454.87 261.49,452.79 263.7,450.69 265.91,448.58 268.13,446.46 270.34,444.33 272.56,442.17 274.77,440.01 276.98,437.83 279.2,435.64 281.41,433.43 283.63,431.21 285.84,428.98 288.05,426.73 290.27,424.47 292.48,422.19 294.7,419.9 296.91,417.59 299.12,415.27 301.34,412.94 303.55,410.59 305.77,408.23 307.98,405.86 310.19,403.47 312.41,401.07 314.62,398.65 316.84,396.22 319.05,393.77 321.26,391.32 323.48,388.84 325.69,386.36 327.91,383.86 330.12,381.34 332.33,378.81 334.55,376.27 336.76,373.71 338.98,371.14 341.19,368.56 343.4,365.96 345.62,363.34 347.83,360.72 350.05,358.08 352.26,355.42 354.47,352.75 356.69,350.07 358.9,347.37 361.12,344.66 363.33,341.94 365.54,339.2 367.76,336.44 369.97,333.68 372.19,330.9 374.4,328.1"/>
<path class="ln" stroke="#77AC30" d="M44.51 590.74 L45.62 590.69 L46.73 590.65 L47.83 590.59 L48.94 590.53 L50.05 590.46 L50.64 590.42M52.94 590.25 L53.92 590.17 L54.47 590.12M56.77 589.9 L57.8 589.8 L58.91 589.68 L60.01 589.55 L61.12 589.41 L62.23 589.28 L62.9 589.18M65.2 588.86 L66.1 588.73 L66.73 588.64M69.03 588.27 L69.97 588.1 L71.08 587.91 L72.19 587.71 L73.3 587.51 L74.4 587.29 L75.15 587.15M77.45 586.68 L78.55 586.44 L78.98 586.35M81.28 585.83 L82.15 585.63 L83.26 585.37 L84.37 585.1 L85.47 584.82 L86.58 584.54 L87.41 584.33M89.71 583.71 L90.73 583.43 L91.24 583.29M93.54 582.63 L94.61 582.32 L95.71 581.99 L96.82 581.65 L97.93 581.3 L99.03 580.95 L99.67 580.75M101.96 579.99 L102.91 579.66 L103.5 579.46M105.79 578.65 L106.78 578.3 L107.89 577.89 L109 577.48 L110.1 577.05 L111.21 576.63 L111.92 576.35M114.22 575.43 L115.09 575.07 L115.75 574.8M118.05 573.83 L118.96 573.43 L120.07 572.95 L121.17 572.46 L122.28 571.96 L123.39 571.46 L124.18 571.09M126.48 570.01 L127.54 569.5 L128.01 569.27M130.31 568.14 L131.14 567.72 L132.24 567.15 L133.35 566.58 L134.46 565.99 L135.56 565.4 L136.43 564.92M138.73 563.64 L139.72 563.09 L140.26 562.77M142.56 561.44 L143.59 560.83 L144.7 560.17 L145.8 559.5 L146.91 558.83 L148.02 558.16 L148.69 557.74M150.99 556.31 L151.89 555.74 L152.52 555.35M154.82 553.89 L155.77 553.28 L156.87 552.55 L157.98 551.82 L159.09 551.09 L160.2 550.34 L160.95 549.83M163.24 548.26 L164.35 547.5 L164.78 547.2M167.07 545.59 L167.94 544.97 L169.05 544.19 L170.16 543.4 L171.27 542.61 L172.37 541.82 L173.2 541.22M175.5 539.57 L176.52 538.84 L177.03 538.47M179.33 536.82 L180.4 536.05 L181.51 535.25 L182.61 534.44 L183.72 533.64 L184.83 532.82 L185.46 532.36M187.76 530.66 L188.7 529.95 L189.29 529.51M191.59 527.78 L192.58 527.03 L193.68 526.18 L194.79 525.33 L195.9 524.47 L197 523.61 L197.71 523.05M200.01 521.23 L200.88 520.54 L201.54 520.01M203.84 518.14 L204.75 517.39 L205.86 516.48 L206.97 515.55 L208.07 514.62 L209.18 513.68 L209.97 513.01M212.27 511.04 L213.33 510.12 L213.8 509.71M216.1 507.71 L216.93 506.98 L218.04 506.01 L219.14 505.03 L220.25 504.06 L221.36 503.08 L222.23 502.32M224.52 500.29 L225.51 499.43 L226.06 498.95M228.35 496.92 L229.38 496 L230.49 495.02 L231.6 494.02 L232.7 493.02 L233.81 492.01 L234.48 491.4M236.78 489.28 L237.69 488.44 L238.31 487.86M240.61 485.7 L241.56 484.8 L242.67 483.74 L243.77 482.69 L244.88 481.62 L245.99 480.55 L246.74 479.82M249.04 477.57 L250.14 476.48 L250.57 476.06M252.87 473.77 L253.74 472.9 L254.84 471.8 L255.95 470.7 L257.06 469.6 L258.16 468.5 L258.99 467.68M261.29 465.39 L262.32 464.36 L262.82 463.86M265.12 461.56 L266.19 460.48 L267.3 459.36 L268.4 458.24 L269.51 457.12 L270.62 455.99 L271.17 455.43M273.41 453.13 L274.49 452.01 L274.89 451.6M277.1 449.3 L278.09 448.26 L279.2 447.09 L280.31 445.93 L281.41 444.77 L282.52 443.61 L282.94 443.17M285.14 440.88 L286.12 439.85 L286.6 439.34M288.8 437.05 L289.71 436.09 L290.82 434.92 L291.93 433.76 L293.04 432.59 L294.14 431.41 L294.61 430.92M296.76 428.62 L297.74 427.57 L298.19 427.09M300.31 424.79 L301.34 423.67 L302.45 422.45 L303.55 421.23 L304.66 419.99 L305.77 418.75 L305.84 418.66M307.87 416.36 L308.81 415.28 L309.2 414.83M311.2 412.53 L312.13 411.45 L313.24 410.16 L314.35 408.87 L315.45 407.57 L316.45 406.41M318.39 404.11 L319.33 402.99 L319.67 402.58M321.59 400.28 L322.65 399 L323.75 397.66 L324.86 396.31 L325.97 394.96 L326.62 394.15M328.48 391.85 L328.74 391.53 L329.01 391.19 L329.29 390.85 L329.57 390.5 L329.71 390.32M331.54 388.02 L332.61 386.67 L333.72 385.26 L334.82 383.84 L335.93 382.41 L336.33 381.89M338.1 379.6 L338.98 378.45 L339.27 378.06M341 375.77 L342.02 374.41 L343.13 372.93 L344.23 371.43 L345.34 369.94 L345.56 369.64M347.25 367.34 L347.28 367.3 L347.56 366.93 L347.83 366.55 L348.11 366.17 L348.37 365.81M350.04 363.51 L350.88 362.35 L351.98 360.82 L353.09 359.27 L354.2 357.72 L354.44 357.38M356.06 355.08 L356.13 354.98 L356.41 354.59 L356.69 354.2 L356.96 353.81 L357.14 353.55M358.75 351.25 L359.73 349.85 L360.84 348.25 L361.95 346.65 L362.99 345.13M364.56 342.83 L364.71 342.61 L364.99 342.2 L365.27 341.8 L365.54 341.39 L365.61 341.3M367.16 339 L368.03 337.7 L369.14 336.05 L370.25 334.39 L371.26 332.87M372.78 330.57 L373.02 330.21 L373.29 329.78 L373.57 329.36 L373.78 329.04"/>
<text class="tk" text-anchor="end" transform="translate(37.9 595.4)">0</text>
<text class="tk" text-anchor="end" transform="translate(37.9 569.13)">0.1</text>
<text class="tk" text-anchor="end" transform="translate(37.9 542.86)">0.2</text>
<text class="tk" text-anchor="end" transform="translate(37.9 516.59)">0.3</text>
<text class="tk" text-anchor="end" transform="translate(37.9 490.32)">0.4</text>
<text class="tk" text-anchor="end" transform="translate(37.9 464.05)">0.5</text>
<text class="tk" text-anchor="end" transform="translate(37.9 437.78)">0.6</text>
<text class="tk" text-anchor="end" transform="translate(37.9 411.51)">0.7</text>
<text class="tk" text-anchor="end" transform="translate(37.9 385.24)">0.8</text>
<text class="tk" text-anchor="end" transform="translate(37.9 358.97)">0.9</text>
<text class="tk" text-anchor="end" transform="translate(37.9 332.7)">1</text>
<text class="tk" text-anchor="middle" transform="translate(41.9 605.7) scale(0.930 1)">0</text>
<text class="tk" text-anchor="middle" transform="translate(152.6 605.7) scale(0.930 1)">50</text>
<text class="tk" text-anchor="middle" transform="translate(263.3 605.7) scale(0.930 1)">100</text>
<text class="tk" text-anchor="middle" transform="translate(374 605.7) scale(0.930 1)">150</text>
<text class="lb" text-anchor="middle" transform="translate(208.35 622) scale(0.928 1)">Rank of individuals</text>
<text class="lb" text-anchor="middle" transform="translate(10.1 459.7) rotate(-90) scale(0.928 1)">Cumulative selection probability</text>
<text class="pn" transform="translate(48.25 347.6) scale(1.040 1)">(c)</text>
<rect class="ax" x="308.1" y="520.4" width="61.7" height="66.7" fill="#fff" style="fill:#fff"/>
<path class="ln" stroke="#0072BD" d="M314 528.3 L317.83 528.3 L321.66 528.3 L321.66 528.3M326.26 528.3 L329.32 528.3 L333.15 528.3 L333.92 528.3M338.51 528.3 L340.81 528.3 L344.64 528.3"/>
<text class="lg" transform="translate(348 531.7) scale(0.943 1)">LRS</text>
<path class="dt" stroke="#D95319" stroke-width="2" d="M329.32 541.16h0"/>
<text class="lg" transform="translate(348 544.56) scale(0.943 1)">ERS</text>
<path class="ln" stroke="#EDB120" d="M314 554.02H344.64"/>
<text class="lg" transform="translate(348 557.42) scale(0.943 1)">BTS</text>
<path class="ln" stroke="#7E2F8E" d="M314 566.88H344.64"/>
<text class="lg" transform="translate(348 570.28) scale(0.943 1)">PTS</text>
<path class="ln" stroke="#77AC30" d="M314 579.74 L317.83 579.74 L320.13 579.74M322.43 579.74 L323.96 579.74M326.26 579.74 L329.32 579.74 L332.38 579.74M334.68 579.74 L336.21 579.74M338.51 579.74 L340.81 579.74 L344.64 579.74"/>
<text class="lg" transform="translate(348 583.14) scale(0.943 1)">SRS</text>
</g>
<g>
<path class="ax" d="M444.3 328.1H776.4V590.8H444.3Z"/>
<path class="ax" style="stroke-opacity:0.74;stroke-width:1.1" d="M444.3 564.53h3.5M776.4 564.53h-3.5M444.3 538.26h3.5M776.4 538.26h-3.5M444.3 511.99h3.5M776.4 511.99h-3.5M444.3 485.72h3.5M776.4 485.72h-3.5M444.3 459.45h3.5M776.4 459.45h-3.5M444.3 433.18h3.5M776.4 433.18h-3.5M444.3 406.91h3.5M776.4 406.91h-3.5M444.3 380.64h3.5M776.4 380.64h-3.5M444.3 354.37h3.5M776.4 354.37h-3.5M555 590.8v-3.5M555 328.1v3.5M665.7 590.8v-3.5M665.7 328.1v3.5"/>
<path class="ln" stroke="#0072BD" d="M446.51 590.8 L447.62 590.79 L448.73 590.78 L449.84 590.75 L450.94 590.73 L452.05 590.69 L453.16 590.66 L454.17 590.62M458.77 590.37 L459.8 590.31 L460.9 590.22 L462.01 590.14 L463.12 590.05 L464.23 589.95 L465.33 589.85 L466.43 589.74M471.03 589.23 L471.98 589.11 L473.08 588.97 L474.19 588.81 L475.3 588.66 L476.4 588.5 L477.51 588.33 L478.62 588.16 L478.69 588.14M483.28 587.36 L484.15 587.2 L485.26 586.99 L486.37 586.78 L487.47 586.56 L488.58 586.33 L489.69 586.1 L490.79 585.86 L490.94 585.83M495.54 584.78 L496.61 584.51 L497.71 584.24 L498.82 583.96 L499.93 583.67 L501.03 583.38 L502.14 583.08 L503.2 582.79M507.79 581.47 L508.78 581.17 L509.89 580.83 L511 580.49 L512.1 580.13 L513.21 579.78 L514.32 579.41 L515.42 579.05 L515.45 579.04M520.05 577.44 L520.96 577.11 L522.07 576.71 L523.17 576.3 L524.28 575.88 L525.39 575.46 L526.49 575.04 L527.6 574.6 L527.71 574.56M532.31 572.69 L533.14 572.35 L534.24 571.88 L535.35 571.4 L536.46 570.92 L537.56 570.44 L538.67 569.94 L539.78 569.45 L539.97 569.36M544.56 567.23 L545.59 566.73 L546.7 566.2 L547.8 565.66 L548.91 565.11 L550.02 564.56 L551.13 564 L552.22 563.44M556.82 561.04 L557.77 560.53 L558.87 559.93 L559.98 559.32 L561.09 558.71 L562.2 558.09 L563.3 557.47 L564.41 556.84 L564.48 556.8M569.07 554.13 L569.94 553.61 L571.05 552.95 L572.16 552.28 L573.27 551.6 L574.37 550.92 L575.48 550.23 L576.59 549.54 L576.73 549.45M581.33 546.5 L582.4 545.8 L583.51 545.07 L584.61 544.33 L585.72 543.59 L586.83 542.84 L587.93 542.09 L588.99 541.37M593.59 538.15 L594.58 537.45 L595.68 536.65 L596.79 535.85 L597.9 535.04 L599 534.23 L600.11 533.41 L601.22 532.59 L601.25 532.57M605.84 529.08 L606.75 528.38 L607.86 527.52 L608.97 526.65 L610.07 525.78 L611.18 524.9 L612.29 524.02 L613.39 523.13 L613.5 523.05M618.1 519.29 L618.93 518.6 L620.04 517.68 L621.14 516.75 L622.25 515.81 L623.36 514.87 L624.46 513.92 L625.57 512.97 L625.76 512.81M630.35 508.78 L631.38 507.86 L632.49 506.88 L633.6 505.88 L634.7 504.88 L635.81 503.87 L636.92 502.86 L638.01 501.84M642.61 497.55 L643.56 496.65 L644.67 495.59 L645.77 494.54 L646.88 493.47 L647.99 492.4 L649.1 491.31 L650.2 490.23 L650.27 490.17M654.86 485.6 L655.74 484.72 L656.84 483.6 L657.95 482.48 L659.06 481.35 L660.16 480.21 L661.27 479.07 L662.35 477.94M666.73 473.35 L667.64 472.38 L668.74 471.2 L669.85 470.01 L670.96 468.81 L672.07 467.61 L673.17 466.41 L673.83 465.69M677.99 461.09 L678.98 459.98 L680.09 458.73 L681.2 457.49 L682.31 456.23 L683.41 454.97 L684.52 453.7 L684.76 453.43M688.73 448.83 L689.78 447.61 L690.88 446.31 L691.99 445 L693.1 443.69 L694.21 442.37 L695.21 441.17M699.02 436.58 L700.02 435.35 L701.12 434 L702.23 432.64 L703.34 431.28 L704.44 429.9 L705.24 428.92M708.9 424.32 L709.98 422.95 L711.09 421.54 L712.19 420.13 L713.3 418.71 L714.41 417.29 L714.89 416.66M718.43 412.07 L719.39 410.8 L720.5 409.34 L721.6 407.88 L722.71 406.41 L723.82 404.94 L724.21 404.41M727.63 399.81 L728.52 398.6 L729.63 397.1 L730.74 395.58 L731.84 394.07 L732.95 392.54 L733.23 392.15M736.55 387.55 L737.38 386.39 L738.49 384.84 L739.59 383.28 L740.7 381.71 L741.81 380.14 L741.98 379.89M745.2 375.3 L746.23 373.8 L747.34 372.2 L748.45 370.59 L749.56 368.98 L750.48 367.64M753.6 363.04 L754.54 361.66 L755.64 360.01 L756.75 358.36 L757.86 356.71 L758.74 355.38M761.78 350.79 L762.84 349.18 L763.95 347.49 L765.05 345.8 L766.16 344.1 L766.79 343.13M769.76 338.53 L770.87 336.81 L771.97 335.08 L773.08 333.34 L774.19 331.6 L774.65 330.87"/>
<path class="dt" stroke="#D95319" stroke-width="2" d="M446.51 590.04h0M448.73 589.28h0M450.94 588.5h0M453.16 587.72h0M455.37 586.93h0M457.58 586.13h0M459.8 585.33h0M462.01 584.52h0M464.23 583.69h0M466.44 582.86h0M468.65 582.03h0M470.87 581.18h0M473.08 580.33h0M475.3 579.46h0M477.51 578.59h0M479.72 577.71h0M481.94 576.82h0M484.15 575.92h0M486.37 575.01h0M488.58 574.09h0M490.79 573.17h0M493.01 572.23h0M495.22 571.29h0M497.44 570.33h0M499.65 569.37h0M501.86 568.4h0M504.08 567.41h0M506.29 566.42h0M508.51 565.42h0M510.72 564.4h0M512.93 563.38h0M515.15 562.34h0M517.36 561.3h0M519.58 560.25h0M521.79 559.18h0M524 558.1h0M526.22 557.02h0M528.43 555.92h0M530.65 554.81h0M532.86 553.69h0M535.07 552.56h0M537.29 551.42h0M539.5 550.26h0M541.72 549.1h0M543.93 547.92h0M546.14 546.73h0M548.36 545.53h0M550.57 544.32h0M552.79 543.09h0M555 541.85h0M557.21 540.6h0M559.43 539.34h0M561.64 538.06h0M563.86 536.78h0M566.07 535.47h0M568.28 534.16h0M570.5 532.83h0M572.71 531.49h0M574.93 530.14h0M577.14 528.77h0M579.35 527.39h0M581.57 525.99h0M583.78 524.58h0M586 523.16h0M588.21 521.72h0M590.42 520.27h0M592.64 518.8h0M594.85 517.32h0M597.07 515.82h0M599.28 514.31h0M601.49 512.78h0M603.71 511.24h0M605.92 509.68h0M608.14 508.11h0M610.35 506.52h0M612.56 504.91h0M614.78 503.29h0M616.99 501.66h0M619.21 500h0M621.42 498.33h0M623.63 496.64h0M625.85 494.94h0M628.06 493.22h0M630.28 491.48h0M632.49 489.72h0M634.7 487.95h0M636.92 486.15h0M639.13 484.34h0M641.35 482.52h0M643.56 480.67h0M645.77 478.81h0M647.99 476.92h0M650.2 475.02h0M652.42 473.1h0M654.63 471.16h0M656.84 469.19h0M659.06 467.21h0M661.27 465.21h0M663.49 463.19h0M665.7 461.15h0M667.91 459.09h0M670.13 457.01h0M672.34 454.91h0M674.56 452.78h0M676.77 450.64h0M678.98 448.47h0M681.2 446.28h0M683.41 444.07h0M685.63 441.84h0M687.84 439.58h0M690.05 437.3h0M692.27 435h0M694.48 432.68h0M696.7 430.33h0M698.91 427.96h0M701.12 425.57h0M703.34 423.15h0M705.55 420.7h0M707.77 418.24h0M709.98 415.74h0M712.19 413.23h0M714.41 410.68h0M716.62 408.11h0M718.84 405.52h0M721.05 402.9h0M723.26 400.25h0M725.48 397.58h0M727.69 394.88h0M729.91 392.15h0M732.12 389.4h0M734.33 386.61h0M736.55 383.8h0M738.76 380.97h0M740.98 378.1h0M743.19 375.2h0M745.4 372.28h0M747.62 369.32h0M749.83 366.34h0M752.05 363.32h0M754.26 360.28h0M756.47 357.2h0M758.69 354.1h0M760.9 350.96h0M763.12 347.79h0M765.33 344.59h0M767.54 341.36h0M769.76 338.09h0M771.97 334.8h0M774.19 331.46h0M776.4 328.1h0"/>
<polyline class="ln" stroke="#EDB120" points="446.51,590.79 448.73,590.75 450.94,590.69 453.16,590.61 455.37,590.51 457.58,590.38 459.8,590.23 462.01,590.05 464.23,589.85 466.44,589.63 468.65,589.39 470.87,589.12 473.08,588.83 475.3,588.51 477.51,588.17 479.72,587.81 481.94,587.43 484.15,587.02 486.37,586.59 488.58,586.13 490.79,585.65 493.01,585.15 495.22,584.62 497.44,584.07 499.65,583.5 501.86,582.91 504.08,582.29 506.29,581.65 508.51,580.98 510.72,580.29 512.93,579.58 515.15,578.84 517.36,578.09 519.58,577.3 521.79,576.5 524,575.67 526.22,574.82 528.43,573.94 530.65,573.04 532.86,572.12 535.07,571.17 537.29,570.2 539.5,569.21 541.72,568.2 543.93,567.16 546.14,566.09 548.36,565.01 550.57,563.9 552.79,562.77 555,561.61 557.21,560.43 559.43,559.23 561.64,558 563.86,556.75 566.07,555.48 568.28,554.19 570.5,552.87 572.71,551.52 574.93,550.16 577.14,548.77 579.35,547.36 581.57,545.92 583.78,544.46 586,542.98 588.21,541.47 590.42,539.94 592.64,538.39 594.85,536.81 597.07,535.21 599.28,533.59 601.49,531.94 603.71,530.27 605.92,528.58 608.14,526.86 610.35,525.12 612.56,523.36 614.78,521.58 616.99,519.77 619.21,517.93 621.42,516.08 623.63,514.2 625.85,512.29 628.06,510.37 630.28,508.42 632.49,506.44 634.7,504.45 636.92,502.43 639.13,500.38 641.35,498.32 643.56,496.23 645.77,494.11 647.99,491.98 650.2,489.82 652.42,487.63 654.63,485.43 656.84,483.2 659.06,480.94 661.27,478.67 663.49,476.37 665.7,474.04 667.91,471.7 670.13,469.33 672.34,466.93 674.56,464.52 676.77,462.08 678.98,459.61 681.2,457.13 683.41,454.62 685.63,452.08 687.84,449.53 690.05,446.95 692.27,444.34 694.48,441.71 696.7,439.06 698.91,436.39 701.12,433.69 703.34,430.97 705.55,428.23 707.77,425.46 709.98,422.67 712.19,419.86 714.41,417.02 716.62,414.16 718.84,411.28 721.05,408.37 723.26,405.44 725.48,402.48 727.69,399.51 729.91,396.51 732.12,393.48 734.33,390.44 736.55,387.37 738.76,384.27 740.98,381.15 743.19,378.01 745.4,374.85 747.62,371.66 749.83,368.45 752.05,365.22 754.26,361.96 756.47,358.68 758.69,355.37 760.9,352.05 763.12,348.7 765.33,345.32 767.54,341.92 769.76,338.5 771.97,335.06 774.19,331.59 776.4,328.1"/>
<polyline class="ln" stroke="#7E2F8E" points="446.51,590.09 448.73,589.37 450.94,588.64 453.16,587.89 455.37,587.12 457.58,586.34 459.8,585.55 462.01,584.75 464.23,583.93 466.44,583.09 468.65,582.25 470.87,581.38 473.08,580.51 475.3,579.62 477.51,578.72 479.72,577.8 481.94,576.87 484.15,575.92 486.37,574.96 488.58,573.99 490.79,573 493.01,572 495.22,570.98 497.44,569.95 499.65,568.91 501.86,567.85 504.08,566.78 506.29,565.69 508.51,564.59 510.72,563.48 512.93,562.35 515.15,561.21 517.36,560.05 519.58,558.88 521.79,557.7 524,556.5 526.22,555.29 528.43,554.06 530.65,552.82 532.86,551.57 535.07,550.3 537.29,549.02 539.5,547.72 541.72,546.41 543.93,545.09 546.14,543.75 548.36,542.4 550.57,541.03 552.79,539.65 555,538.26 557.21,536.85 559.43,535.43 561.64,533.99 563.86,532.54 566.07,531.08 568.28,529.6 570.5,528.11 572.71,526.6 574.93,525.08 577.14,523.55 579.35,522 581.57,520.44 583.78,518.86 586,517.27 588.21,515.67 590.42,514.05 592.64,512.42 594.85,510.77 597.07,509.11 599.28,507.44 601.49,505.75 603.71,504.05 605.92,502.33 608.14,500.6 610.35,498.85 612.56,497.1 614.78,495.32 616.99,493.54 619.21,491.74 621.42,489.92 623.63,488.09 625.85,486.25 628.06,484.4 630.28,482.53 632.49,480.64 634.7,478.74 636.92,476.83 639.13,474.9 641.35,472.96 643.56,471.01 645.77,469.04 647.99,467.06 650.2,465.06 652.42,463.05 654.63,461.03 656.84,458.99 659.06,456.94 661.27,454.87 663.49,452.79 665.7,450.69 667.91,448.58 670.13,446.46 672.34,444.33 674.56,442.17 676.77,440.01 678.98,437.83 681.2,435.64 683.41,433.43 685.63,431.21 687.84,428.98 690.05,426.73 692.27,424.47 694.48,422.19 696.7,419.9 698.91,417.59 701.12,415.27 703.34,412.94 705.55,410.59 707.77,408.23 709.98,405.86 712.19,403.47 714.41,401.07 716.62,398.65 718.84,396.22 721.05,393.77 723.26,391.32 725.48,388.84 727.69,386.36 729.91,383.86 732.12,381.34 734.33,378.81 736.55,376.27 738.76,373.71 740.98,371.14 743.19,368.56 745.4,365.96 747.62,363.34 749.83,360.72 752.05,358.08 754.26,355.42 756.47,352.75 758.69,350.07 760.9,347.37 763.12,344.66 765.33,341.94 767.54,339.2 769.76,336.44 771.97,333.68 774.19,330.9 776.4,328.1"/>
<path class="ln" stroke="#77AC30" d="M446.51 590.79 L447.62 590.77 L448.73 590.75 L449.84 590.72 L450.94 590.69 L452.05 590.65 L452.64 590.63M454.94 590.53 L455.92 590.48 L456.47 590.44M458.77 590.3 L459.8 590.23 L460.9 590.14 L462.01 590.05 L463.12 589.95 L464.23 589.85 L464.9 589.79M467.2 589.55 L468.1 589.45 L468.73 589.38M471.03 589.1 L471.98 588.97 L473.08 588.83 L474.19 588.67 L475.3 588.51 L476.4 588.34 L477.15 588.23M479.45 587.86 L480.55 587.67 L480.98 587.59M483.28 587.18 L484.15 587.02 L485.26 586.8 L486.37 586.59 L487.47 586.36 L488.58 586.13 L489.41 585.95M491.71 585.44 L492.73 585.21 L493.24 585.09M495.54 584.55 L496.61 584.28 L497.71 584 L498.82 583.72 L499.93 583.43 L501.03 583.13 L501.67 582.96M503.96 582.32 L504.91 582.05 L505.5 581.88M507.79 581.19 L508.78 580.89 L509.89 580.55 L511 580.2 L512.1 579.85 L513.21 579.49 L513.92 579.25M516.22 578.48 L517.09 578.18 L517.75 577.95M520.05 577.13 L520.96 576.8 L522.07 576.39 L523.17 575.98 L524.28 575.56 L525.39 575.14 L526.18 574.83M528.48 573.92 L529.54 573.49 L530.01 573.3M532.31 572.35 L533.14 572 L534.24 571.53 L535.35 571.05 L536.46 570.57 L537.56 570.08 L538.43 569.69M540.73 568.65 L541.72 568.2 L542.26 567.94M544.56 566.85 L545.59 566.36 L546.7 565.82 L547.8 565.28 L548.91 564.73 L550.02 564.18 L550.69 563.84M552.99 562.66 L553.89 562.19 L554.52 561.86M556.82 560.64 L557.77 560.13 L558.87 559.53 L559.98 558.92 L561.09 558.31 L562.2 557.69 L562.95 557.27M565.24 555.96 L566.35 555.32 L566.78 555.07M569.07 553.71 L569.94 553.2 L571.05 552.53 L572.16 551.86 L573.27 551.18 L574.37 550.5 L575.2 549.98M577.5 548.54 L578.52 547.89 L579.03 547.56M581.33 546.07 L582.4 545.37 L583.51 544.64 L584.61 543.9 L585.72 543.16 L586.83 542.41 L587.46 541.98M589.76 540.4 L590.7 539.75 L591.29 539.34M593.59 537.71 L594.58 537.01 L595.68 536.21 L596.79 535.41 L597.9 534.6 L599 533.79 L599.71 533.27M602.01 531.55 L602.88 530.9 L603.54 530.4M605.84 528.64 L606.75 527.94 L607.86 527.08 L608.97 526.21 L610.07 525.34 L611.18 524.46 L611.97 523.83M614.27 521.99 L615.33 521.12 L615.8 520.74M618.1 518.85 L618.93 518.16 L620.04 517.24 L621.14 516.31 L622.25 515.37 L623.36 514.43 L624.23 513.69M626.52 511.71 L627.51 510.85 L628.06 510.37M630.35 508.35 L631.38 507.43 L632.49 506.44 L633.6 505.45 L634.7 504.45 L635.81 503.44 L636.48 502.83M638.78 500.71 L639.69 499.87 L640.31 499.28M642.61 497.12 L643.56 496.23 L644.67 495.17 L645.77 494.11 L646.88 493.05 L647.99 491.98 L648.74 491.25M651.04 489 L652.14 487.91 L652.57 487.48M654.86 485.19 L655.74 484.31 L656.84 483.2 L657.95 482.07 L659.06 480.94 L660.16 479.81 L660.89 479.06M663.1 476.77 L664.04 475.79 L664.57 475.23M666.75 472.94 L667.64 471.99 L668.74 470.81 L669.85 469.62 L670.96 468.43 L672.07 467.23 L672.46 466.81M674.56 464.51 L675.66 463.3 L675.95 462.98M678.03 460.68 L678.98 459.61 L680.09 458.37 L681.2 457.13 L682.31 455.87 L683.41 454.62 L683.47 454.55M685.48 452.25 L686.46 451.12 L686.8 450.72M688.79 448.42 L689.78 447.27 L690.88 445.97 L691.99 444.67 L693.1 443.36 L693.99 442.3M695.92 440 L696.14 439.73 L696.42 439.4 L696.7 439.06 L696.97 438.73 L697.19 438.47M699.09 436.17 L700.02 435.04 L701.12 433.69 L702.23 432.33 L703.34 430.97 L704.09 430.04M705.94 427.74 L706.11 427.54 L706.38 427.19 L706.66 426.85 L706.94 426.5 L707.17 426.21M709 423.91 L709.98 422.67 L711.09 421.27 L712.19 419.86 L713.3 418.44 L713.81 417.78M715.6 415.49 L715.79 415.23 L716.07 414.88 L716.35 414.52 L716.62 414.16 L716.78 413.95M718.54 411.66 L719.39 410.55 L720.5 409.1 L721.6 407.64 L722.71 406.17 L723.2 405.53M724.92 403.23 L725.75 402.11 L726.06 401.7M727.77 399.4 L728.8 398.01 L729.91 396.51 L731.01 395 L732.12 393.48 L732.27 393.27M733.94 390.97 L734.06 390.82 L734.33 390.44 L734.61 390.05 L734.89 389.67 L735.05 389.44M736.71 387.14 L737.65 385.82 L738.76 384.27 L739.87 382.71 L740.98 381.15 L741.07 381.02M742.69 378.72 L742.91 378.41 L743.19 378.01 L743.47 377.62 L743.74 377.22 L743.77 377.19M745.38 374.89 L746.23 373.65 L747.34 372.06 L748.45 370.46 L749.56 368.85 L749.62 368.76M751.19 366.46 L751.22 366.43 L751.49 366.03 L751.77 365.62 L752.05 365.22 L752.24 364.93M753.8 362.63 L754.81 361.14 L755.92 359.5 L757.03 357.85 L757.93 356.5M759.47 354.21 L759.52 354.13 L759.8 353.71 L760.07 353.29 L760.35 352.88 L760.48 352.67M762.01 350.38 L762.84 349.11 L763.95 347.43 L765.05 345.74 L766.03 344.25M767.53 341.95 L767.54 341.92 L767.82 341.5 L768.1 341.07 L768.37 340.64 L768.52 340.42M770 338.12 L770.87 336.78 L771.97 335.06 L773.08 333.32 L773.93 331.99M775.39 329.69 L775.57 329.41 L775.85 328.97 L776.12 328.54 L776.36 328.16"/>
<text class="tk" text-anchor="end" transform="translate(439.9 595.4)">0</text>
<text class="tk" text-anchor="end" transform="translate(439.9 569.13)">0.1</text>
<text class="tk" text-anchor="end" transform="translate(439.9 542.86)">0.2</text>
<text class="tk" text-anchor="end" transform="translate(439.9 516.59)">0.3</text>
<text class="tk" text-anchor="end" transform="translate(439.9 490.32)">0.4</text>
<text class="tk" text-anchor="end" transform="translate(439.9 464.05)">0.5</text>
<text class="tk" text-anchor="end" transform="translate(439.9 437.78)">0.6</text>
<text class="tk" text-anchor="end" transform="translate(439.9 411.51)">0.7</text>
<text class="tk" text-anchor="end" transform="translate(439.9 385.24)">0.8</text>
<text class="tk" text-anchor="end" transform="translate(439.9 358.97)">0.9</text>
<text class="tk" text-anchor="end" transform="translate(439.9 332.7)">1</text>
<text class="tk" text-anchor="middle" transform="translate(443.9 605.7) scale(0.930 1)">0</text>
<text class="tk" text-anchor="middle" transform="translate(554.6 605.7) scale(0.930 1)">50</text>
<text class="tk" text-anchor="middle" transform="translate(665.3 605.7) scale(0.930 1)">100</text>
<text class="tk" text-anchor="middle" transform="translate(776 605.7) scale(0.930 1)">150</text>
<text class="lb" text-anchor="middle" transform="translate(610.35 622) scale(0.928 1)">Rank of individuals</text>
<text class="lb" text-anchor="middle" transform="translate(412.1 459.7) rotate(-90) scale(0.928 1)">Cumulative selection probability</text>
<text class="pn" transform="translate(452.85 347.6) scale(1.040 1)">(d)</text>
<rect class="ax" x="710" y="519.1" width="61.7" height="66.7" fill="#fff" style="fill:#fff"/>
<path class="ln" stroke="#0072BD" d="M715.9 527 L719.73 527 L723.56 527 L723.56 527M728.16 527 L731.22 527 L735.05 527 L735.82 527M740.41 527 L742.71 527 L746.54 527"/>
<text class="lg" transform="translate(749.9 530.4) scale(0.943 1)">LRS</text>
<path class="dt" stroke="#D95319" stroke-width="2" d="M731.22 539.86h0"/>
<text class="lg" transform="translate(749.9 543.26) scale(0.943 1)">ERS</text>
<path class="ln" stroke="#EDB120" d="M715.9 552.72H746.54"/>
<text class="lg" transform="translate(749.9 556.12) scale(0.943 1)">BTS</text>
<path class="ln" stroke="#7E2F8E" d="M715.9 565.58H746.54"/>
<text class="lg" transform="translate(749.9 568.98) scale(0.943 1)">PTS</text>
<path class="ln" stroke="#77AC30" d="M715.9 578.44 L719.73 578.44 L722.03 578.44M724.33 578.44 L725.86 578.44M728.16 578.44 L731.22 578.44 L734.28 578.44M736.58 578.44 L738.11 578.44M740.41 578.44 L742.71 578.44 L746.54 578.44"/>
<text class="lg" transform="translate(749.9 581.84) scale(0.943 1)">SRS</text>
</g>
</svg></body></html>
